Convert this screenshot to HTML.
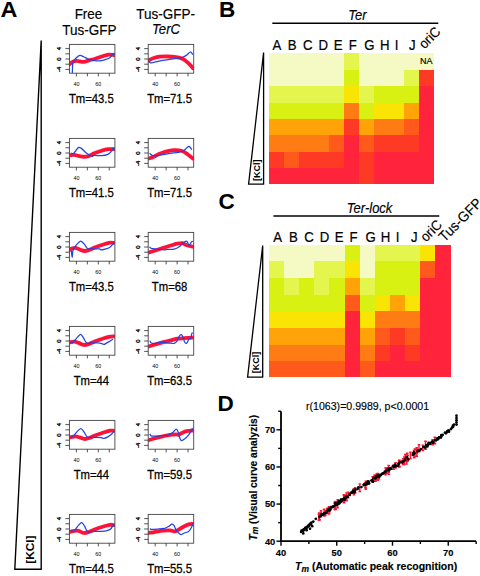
<!DOCTYPE html>
<html><head><meta charset="utf-8"><style>
html,body{margin:0;padding:0;background:#fff;width:480px;height:576px;overflow:hidden}
svg{display:block}
</style></head><body>
<svg width="480" height="576" viewBox="0 0 480 576" font-family="Liberation Sans, sans-serif">
<rect width="480" height="576" fill="#fff"/>
<text transform="translate(0.6,17.1) scale(1.05,1)" font-size="22.3" font-weight="bold" font-family="Liberation Sans, sans-serif">A</text>
<text x="219" y="17.2" font-size="22.5" font-weight="bold" font-family="Liberation Sans, sans-serif">B</text>
<text x="218.5" y="208.9" font-size="22.5" font-weight="bold" font-family="Liberation Sans, sans-serif">C</text>
<text x="217.5" y="411.4" font-size="22.5" font-weight="bold" font-family="Liberation Sans, sans-serif">D</text>
<text transform="translate(88.5,18.8) scale(1,1.07)" font-size="13.5" text-anchor="middle" stroke="#000" stroke-width="0.15" font-family="Liberation Sans, sans-serif">Free</text>
<text transform="translate(89.4,35.1) scale(1,1.07)" font-size="13.5" text-anchor="middle" stroke="#000" stroke-width="0.15" font-family="Liberation Sans, sans-serif">Tus-GFP</text>
<text transform="translate(165.7,19.1) scale(1,1.07)" font-size="13.5" text-anchor="middle" stroke="#000" stroke-width="0.15" font-family="Liberation Sans, sans-serif">Tus-GFP-</text>
<text transform="translate(166,34.3) scale(1,1.07)" font-size="13.2" font-style="italic" text-anchor="middle" stroke="#000" stroke-width="0.15" font-family="Liberation Sans, sans-serif">TerC</text>
<path d="M41.2,40.5 L41.2,569.2 L14.8,569.2 Z" fill="none" stroke="#000" stroke-width="1.4" stroke-linejoin="miter"/>
<text transform="translate(34.3,563.8) rotate(-90)" font-size="11.8" font-weight="bold" font-family="Liberation Sans, sans-serif">[KCl]</text>
<clipPath id="clip00"><rect x="69.4" y="44.4" width="45.5" height="28.8"/></clipPath>
<g clip-path="url(#clip00)">
<path d="M69.72,63.98 C70.15,63.65 71.19,62.49 72.31,61.97 C73.43,61.45 74.55,60.87 76.45,60.87 C78.36,60.87 81.65,62.05 83.73,61.97 C85.82,61.88 87.06,60.88 88.97,60.36 C90.87,59.83 92.91,59.49 95.15,58.80 C97.40,58.11 100.18,56.90 102.43,56.21 C104.69,55.51 106.76,54.80 108.67,54.62 C110.57,54.45 112.99,55.06 113.85,55.14" fill="none" stroke="#FF1238" stroke-width="3.8" stroke-linecap="round"/>
<path d="M72.31,73.20 C72.40,71.50 72.46,65.18 72.81,62.98 C73.16,60.77 73.62,60.98 74.41,59.95 C75.19,58.92 76.55,57.53 77.50,56.78 C78.45,56.04 79.05,55.46 80.09,55.46 C81.13,55.46 82.25,56.13 83.73,56.78 C85.21,57.44 87.41,58.78 88.97,59.38 C90.52,59.97 91.33,60.11 93.06,60.36 C94.79,60.60 97.43,60.96 99.34,60.87 C101.25,60.79 102.80,60.36 104.53,59.84 C106.26,59.32 108.24,58.80 109.71,57.76 C111.18,56.72 112.57,54.11 113.35,53.59 C114.13,53.06 114.23,54.45 114.40,54.62" fill="none" stroke="#2244E6" stroke-width="1.25"/>
</g>
<rect x="69.4" y="44.4" width="45.5" height="28.8" fill="none" stroke="#444" stroke-width="0.9"/>
<line x1="65.4" y1="48.60" x2="69.4" y2="48.60" stroke="#333" stroke-width="0.85"/>
<line x1="65.4" y1="53.80" x2="69.4" y2="53.80" stroke="#333" stroke-width="0.85"/>
<line x1="65.4" y1="59.00" x2="69.4" y2="59.00" stroke="#333" stroke-width="0.85"/>
<line x1="65.4" y1="64.20" x2="69.4" y2="64.20" stroke="#333" stroke-width="0.85"/>
<line x1="65.4" y1="69.40" x2="69.4" y2="69.40" stroke="#333" stroke-width="0.85"/>
<line x1="76.40" y1="73.2" x2="76.40" y2="76.4" stroke="#333" stroke-width="0.85"/>
<line x1="87.35" y1="73.2" x2="87.35" y2="76.4" stroke="#333" stroke-width="0.85"/>
<line x1="98.30" y1="73.2" x2="98.30" y2="76.4" stroke="#333" stroke-width="0.85"/>
<line x1="109.25" y1="73.2" x2="109.25" y2="76.4" stroke="#333" stroke-width="0.85"/>
<text x="76.40" y="86.20" font-size="5.4" text-anchor="middle" font-family="Liberation Sans, sans-serif">40</text>
<text x="98.30" y="86.20" font-size="5.4" text-anchor="middle" font-family="Liberation Sans, sans-serif">60</text>
<text transform="translate(61.00,48.60) rotate(-90)" font-size="6" fill="#000" stroke="#000" stroke-width="0.3" text-anchor="middle" font-family="Liberation Sans, sans-serif">4</text>
<text transform="translate(61.00,59.00) rotate(-90)" font-size="6" fill="#000" stroke="#000" stroke-width="0.3" text-anchor="middle" font-family="Liberation Sans, sans-serif">0</text>
<text transform="translate(61.00,69.40) rotate(-90)" font-size="6" fill="#000" stroke="#000" stroke-width="0.3" text-anchor="middle" font-family="Liberation Sans, sans-serif">-4</text>
<text transform="translate(91.35,102.70) scale(1,1.07)" font-size="11.3" text-anchor="middle" stroke="#000" stroke-width="0.25" font-family="Liberation Sans, sans-serif">Tm=43.5</text>
<clipPath id="clip01"><rect x="148.2" y="44.4" width="45.5" height="28.8"/></clipPath>
<g clip-path="url(#clip01)">
<path d="M148.52,60.36 C149.30,60.01 151.38,58.89 153.20,58.28 C155.03,57.68 157.05,57.02 159.48,56.73 C161.92,56.43 165.03,56.41 167.81,56.50 C170.59,56.58 173.75,56.86 176.18,57.24 C178.62,57.63 180.50,57.93 182.42,58.80 C184.33,59.67 186.25,61.32 187.65,62.46 C189.04,63.59 189.92,64.64 190.79,65.60 C191.66,66.55 192.53,67.76 192.88,68.19" fill="none" stroke="#FF1238" stroke-width="3.8" stroke-linecap="round"/>
<path d="M148.52,60.87 C148.87,61.22 149.48,62.80 150.61,62.98 C151.74,63.15 153.30,62.38 155.30,61.94 C157.30,61.50 159.67,60.88 162.62,60.36 C165.58,59.83 169.92,59.23 173.04,58.80 C176.17,58.37 179.11,58.37 181.37,57.76 C183.63,57.15 185.12,56.10 186.60,55.14 C188.08,54.18 189.20,52.09 190.24,52.00 C191.29,51.92 192.44,54.19 192.88,54.62" fill="none" stroke="#2244E6" stroke-width="1.25"/>
</g>
<rect x="148.2" y="44.4" width="45.5" height="28.8" fill="none" stroke="#444" stroke-width="0.9"/>
<line x1="144.2" y1="48.60" x2="148.2" y2="48.60" stroke="#333" stroke-width="0.85"/>
<line x1="144.2" y1="53.80" x2="148.2" y2="53.80" stroke="#333" stroke-width="0.85"/>
<line x1="144.2" y1="59.00" x2="148.2" y2="59.00" stroke="#333" stroke-width="0.85"/>
<line x1="144.2" y1="64.20" x2="148.2" y2="64.20" stroke="#333" stroke-width="0.85"/>
<line x1="144.2" y1="69.40" x2="148.2" y2="69.40" stroke="#333" stroke-width="0.85"/>
<line x1="155.20" y1="73.2" x2="155.20" y2="76.4" stroke="#333" stroke-width="0.85"/>
<line x1="166.15" y1="73.2" x2="166.15" y2="76.4" stroke="#333" stroke-width="0.85"/>
<line x1="177.10" y1="73.2" x2="177.10" y2="76.4" stroke="#333" stroke-width="0.85"/>
<line x1="188.05" y1="73.2" x2="188.05" y2="76.4" stroke="#333" stroke-width="0.85"/>
<text x="155.20" y="86.20" font-size="5.4" text-anchor="middle" font-family="Liberation Sans, sans-serif">40</text>
<text x="177.10" y="86.20" font-size="5.4" text-anchor="middle" font-family="Liberation Sans, sans-serif">60</text>
<text transform="translate(139.80,48.60) rotate(-90)" font-size="6" fill="#000" stroke="#000" stroke-width="0.3" text-anchor="middle" font-family="Liberation Sans, sans-serif">4</text>
<text transform="translate(139.80,59.00) rotate(-90)" font-size="6" fill="#000" stroke="#000" stroke-width="0.3" text-anchor="middle" font-family="Liberation Sans, sans-serif">0</text>
<text transform="translate(139.80,69.40) rotate(-90)" font-size="6" fill="#000" stroke="#000" stroke-width="0.3" text-anchor="middle" font-family="Liberation Sans, sans-serif">-4</text>
<text transform="translate(169.55,102.70) scale(1,1.07)" font-size="11.3" text-anchor="middle" stroke="#000" stroke-width="0.25" font-family="Liberation Sans, sans-serif">Tm=71.5</text>
<clipPath id="clip10"><rect x="69.4" y="138.4" width="45.5" height="28.8"/></clipPath>
<g clip-path="url(#clip10)">
<path d="M69.72,155.39 C70.50,155.31 72.93,154.78 74.41,154.87 C75.88,154.96 77.02,155.62 78.59,155.94 C80.16,156.26 82.09,156.77 83.82,156.77 C85.56,156.77 87.27,156.52 89.01,155.94 C90.75,155.36 92.16,154.19 94.24,153.32 C96.33,152.45 99.26,151.42 101.52,150.73 C103.78,150.03 105.71,149.41 107.80,149.14 C109.90,148.88 113.03,149.14 114.08,149.14" fill="none" stroke="#FF1238" stroke-width="3.8" stroke-linecap="round"/>
<path d="M71.27,152.80 C71.53,152.97 72.16,154.10 72.86,153.84 C73.56,153.58 74.50,152.32 75.45,151.24 C76.41,150.17 77.55,147.82 78.59,147.39 C79.63,146.95 80.56,147.81 81.69,148.62 C82.81,149.44 84.10,151.24 85.33,152.28 C86.55,153.32 87.87,154.18 89.01,154.87 C90.15,155.57 91.28,156.37 92.15,156.46 C93.02,156.54 92.68,155.52 94.24,155.39 C95.81,155.27 99.26,155.88 101.52,155.71 C103.78,155.54 106.23,155.01 107.80,154.36 C109.37,153.70 110.07,152.80 110.94,151.76 C111.81,150.72 112.43,148.54 113.03,148.11 C113.64,147.67 114.32,148.97 114.58,149.14" fill="none" stroke="#2244E6" stroke-width="1.25"/>
</g>
<rect x="69.4" y="138.4" width="45.5" height="28.8" fill="none" stroke="#444" stroke-width="0.9"/>
<line x1="65.4" y1="142.60" x2="69.4" y2="142.60" stroke="#333" stroke-width="0.85"/>
<line x1="65.4" y1="147.80" x2="69.4" y2="147.80" stroke="#333" stroke-width="0.85"/>
<line x1="65.4" y1="153.00" x2="69.4" y2="153.00" stroke="#333" stroke-width="0.85"/>
<line x1="65.4" y1="158.20" x2="69.4" y2="158.20" stroke="#333" stroke-width="0.85"/>
<line x1="65.4" y1="163.40" x2="69.4" y2="163.40" stroke="#333" stroke-width="0.85"/>
<line x1="76.40" y1="167.20000000000002" x2="76.40" y2="170.4" stroke="#333" stroke-width="0.85"/>
<line x1="87.35" y1="167.20000000000002" x2="87.35" y2="170.4" stroke="#333" stroke-width="0.85"/>
<line x1="98.30" y1="167.20000000000002" x2="98.30" y2="170.4" stroke="#333" stroke-width="0.85"/>
<line x1="109.25" y1="167.20000000000002" x2="109.25" y2="170.4" stroke="#333" stroke-width="0.85"/>
<text x="76.40" y="180.20" font-size="5.4" text-anchor="middle" font-family="Liberation Sans, sans-serif">40</text>
<text x="98.30" y="180.20" font-size="5.4" text-anchor="middle" font-family="Liberation Sans, sans-serif">60</text>
<text transform="translate(61.00,142.60) rotate(-90)" font-size="6" fill="#000" stroke="#000" stroke-width="0.3" text-anchor="middle" font-family="Liberation Sans, sans-serif">4</text>
<text transform="translate(61.00,153.00) rotate(-90)" font-size="6" fill="#000" stroke="#000" stroke-width="0.3" text-anchor="middle" font-family="Liberation Sans, sans-serif">0</text>
<text transform="translate(61.00,163.40) rotate(-90)" font-size="6" fill="#000" stroke="#000" stroke-width="0.3" text-anchor="middle" font-family="Liberation Sans, sans-serif">-4</text>
<text transform="translate(91.35,196.70) scale(1,1.07)" font-size="11.3" text-anchor="middle" stroke="#000" stroke-width="0.25" font-family="Liberation Sans, sans-serif">Tm=41.5</text>
<clipPath id="clip11"><rect x="148.2" y="138.4" width="45.5" height="28.8"/></clipPath>
<g clip-path="url(#clip11)">
<path d="M148.52,158.53 C149.30,158.27 151.38,157.76 153.20,156.98 C155.03,156.19 157.40,154.74 159.48,153.84 C161.57,152.93 163.28,152.17 165.72,151.56 C168.15,150.96 171.47,150.35 174.09,150.21 C176.71,150.07 179.50,150.29 181.41,150.73 C183.33,151.16 184.17,151.93 185.56,152.80 C186.94,153.67 188.52,154.98 189.74,155.94 C190.96,156.89 192.36,158.10 192.88,158.53" fill="none" stroke="#FF1238" stroke-width="3.8" stroke-linecap="round"/>
<path d="M149.56,153.32 C150.00,153.66 151.03,154.96 152.16,155.39 C153.29,155.83 154.60,156.06 156.34,155.94 C158.09,155.82 160.36,155.11 162.62,154.67 C164.88,154.24 167.29,153.72 169.90,153.32 C172.51,152.92 176.02,152.71 178.28,152.28 C180.54,151.85 182.07,151.42 183.46,150.73 C184.85,150.03 185.65,148.84 186.60,148.11 C187.56,147.37 188.32,146.06 189.20,146.32 C190.07,146.58 191.39,149.10 191.83,149.66" fill="none" stroke="#2244E6" stroke-width="1.25"/>
</g>
<rect x="148.2" y="138.4" width="45.5" height="28.8" fill="none" stroke="#444" stroke-width="0.9"/>
<line x1="144.2" y1="142.60" x2="148.2" y2="142.60" stroke="#333" stroke-width="0.85"/>
<line x1="144.2" y1="147.80" x2="148.2" y2="147.80" stroke="#333" stroke-width="0.85"/>
<line x1="144.2" y1="153.00" x2="148.2" y2="153.00" stroke="#333" stroke-width="0.85"/>
<line x1="144.2" y1="158.20" x2="148.2" y2="158.20" stroke="#333" stroke-width="0.85"/>
<line x1="144.2" y1="163.40" x2="148.2" y2="163.40" stroke="#333" stroke-width="0.85"/>
<line x1="155.20" y1="167.20000000000002" x2="155.20" y2="170.4" stroke="#333" stroke-width="0.85"/>
<line x1="166.15" y1="167.20000000000002" x2="166.15" y2="170.4" stroke="#333" stroke-width="0.85"/>
<line x1="177.10" y1="167.20000000000002" x2="177.10" y2="170.4" stroke="#333" stroke-width="0.85"/>
<line x1="188.05" y1="167.20000000000002" x2="188.05" y2="170.4" stroke="#333" stroke-width="0.85"/>
<text x="155.20" y="180.20" font-size="5.4" text-anchor="middle" font-family="Liberation Sans, sans-serif">40</text>
<text x="177.10" y="180.20" font-size="5.4" text-anchor="middle" font-family="Liberation Sans, sans-serif">60</text>
<text transform="translate(139.80,142.60) rotate(-90)" font-size="6" fill="#000" stroke="#000" stroke-width="0.3" text-anchor="middle" font-family="Liberation Sans, sans-serif">4</text>
<text transform="translate(139.80,153.00) rotate(-90)" font-size="6" fill="#000" stroke="#000" stroke-width="0.3" text-anchor="middle" font-family="Liberation Sans, sans-serif">0</text>
<text transform="translate(139.80,163.40) rotate(-90)" font-size="6" fill="#000" stroke="#000" stroke-width="0.3" text-anchor="middle" font-family="Liberation Sans, sans-serif">-4</text>
<text transform="translate(169.55,196.70) scale(1,1.07)" font-size="11.3" text-anchor="middle" stroke="#000" stroke-width="0.25" font-family="Liberation Sans, sans-serif">Tm=71.5</text>
<clipPath id="clip20"><rect x="69.4" y="232.4" width="45.5" height="28.8"/></clipPath>
<g clip-path="url(#clip20)">
<path d="M69.72,249.94 C70.15,249.68 71.18,248.67 72.31,248.36 C73.44,248.04 75.10,247.77 76.50,248.04 C77.89,248.30 79.30,249.45 80.68,249.94 C82.07,250.43 83.44,250.98 84.82,250.98 C86.21,250.98 87.27,250.55 89.01,249.94 C90.75,249.33 93.02,248.19 95.29,247.32 C97.56,246.45 100.36,245.48 102.62,244.73 C104.87,243.98 106.94,243.14 108.85,242.83 C110.76,242.51 113.21,242.83 114.08,242.83" fill="none" stroke="#FF1238" stroke-width="3.8" stroke-linecap="round"/>
<path d="M71.27,250.46 C71.41,251.59 71.86,257.14 72.13,257.23 C72.40,257.31 72.48,252.63 72.86,250.98 C73.24,249.32 73.62,248.54 74.41,247.32 C75.19,246.10 76.50,244.70 77.54,243.66 C78.59,242.62 79.64,241.07 80.68,241.07 C81.73,241.07 82.78,242.53 83.82,243.66 C84.86,244.79 86.05,246.97 86.92,247.84 C87.78,248.71 87.62,248.70 89.01,248.87 C90.41,249.05 93.55,248.87 95.29,248.87 C97.03,248.87 98.44,248.70 99.48,248.87 C100.51,249.05 100.48,249.94 101.52,249.94 C102.56,249.94 104.31,249.31 105.71,248.87 C107.10,248.44 108.50,248.36 109.90,247.32 C111.29,246.28 113.38,243.41 114.08,242.62" fill="none" stroke="#2244E6" stroke-width="1.25"/>
</g>
<rect x="69.4" y="232.4" width="45.5" height="28.8" fill="none" stroke="#444" stroke-width="0.9"/>
<line x1="65.4" y1="236.60" x2="69.4" y2="236.60" stroke="#333" stroke-width="0.85"/>
<line x1="65.4" y1="241.80" x2="69.4" y2="241.80" stroke="#333" stroke-width="0.85"/>
<line x1="65.4" y1="247.00" x2="69.4" y2="247.00" stroke="#333" stroke-width="0.85"/>
<line x1="65.4" y1="252.20" x2="69.4" y2="252.20" stroke="#333" stroke-width="0.85"/>
<line x1="65.4" y1="257.40" x2="69.4" y2="257.40" stroke="#333" stroke-width="0.85"/>
<line x1="76.40" y1="261.2" x2="76.40" y2="264.4" stroke="#333" stroke-width="0.85"/>
<line x1="87.35" y1="261.2" x2="87.35" y2="264.4" stroke="#333" stroke-width="0.85"/>
<line x1="98.30" y1="261.2" x2="98.30" y2="264.4" stroke="#333" stroke-width="0.85"/>
<line x1="109.25" y1="261.2" x2="109.25" y2="264.4" stroke="#333" stroke-width="0.85"/>
<text x="76.40" y="274.20" font-size="5.4" text-anchor="middle" font-family="Liberation Sans, sans-serif">40</text>
<text x="98.30" y="274.20" font-size="5.4" text-anchor="middle" font-family="Liberation Sans, sans-serif">60</text>
<text transform="translate(61.00,236.60) rotate(-90)" font-size="6" fill="#000" stroke="#000" stroke-width="0.3" text-anchor="middle" font-family="Liberation Sans, sans-serif">4</text>
<text transform="translate(61.00,247.00) rotate(-90)" font-size="6" fill="#000" stroke="#000" stroke-width="0.3" text-anchor="middle" font-family="Liberation Sans, sans-serif">0</text>
<text transform="translate(61.00,257.40) rotate(-90)" font-size="6" fill="#000" stroke="#000" stroke-width="0.3" text-anchor="middle" font-family="Liberation Sans, sans-serif">-4</text>
<text transform="translate(91.35,290.70) scale(1,1.07)" font-size="11.3" text-anchor="middle" stroke="#000" stroke-width="0.25" font-family="Liberation Sans, sans-serif">Tm=43.5</text>
<clipPath id="clip21"><rect x="148.2" y="232.4" width="45.5" height="28.8"/></clipPath>
<g clip-path="url(#clip21)">
<path d="M148.52,252.53 C149.65,252.19 152.95,251.21 155.30,250.46 C157.65,249.71 160.19,248.82 162.62,248.04 C165.06,247.26 167.47,246.49 169.90,245.76 C172.34,245.03 175.14,244.10 177.23,243.66 C179.31,243.22 180.85,242.88 182.42,243.14 C183.98,243.41 184.86,244.67 186.60,245.24 C188.35,245.82 191.83,246.37 192.88,246.60" fill="none" stroke="#FF1238" stroke-width="3.8" stroke-linecap="round"/>
<path d="M149.56,246.80 C149.82,247.06 149.81,247.97 151.11,248.36 C152.42,248.74 155.31,248.84 157.39,249.10 C159.48,249.37 161.89,249.89 163.62,249.94 C165.36,249.99 166.07,249.53 167.81,249.39 C169.55,249.25 172.18,249.54 174.09,249.10 C176.00,248.67 177.89,247.71 179.28,246.80 C180.66,245.89 181.37,244.56 182.42,243.66 C183.46,242.76 184.77,241.73 185.56,241.39 C186.34,241.04 186.54,240.94 187.15,241.59 C187.75,242.23 188.51,245.16 189.20,245.24 C189.89,245.33 190.67,242.75 191.29,242.11 C191.90,241.46 192.62,241.51 192.88,241.39" fill="none" stroke="#2244E6" stroke-width="1.25"/>
</g>
<rect x="148.2" y="232.4" width="45.5" height="28.8" fill="none" stroke="#444" stroke-width="0.9"/>
<line x1="144.2" y1="236.60" x2="148.2" y2="236.60" stroke="#333" stroke-width="0.85"/>
<line x1="144.2" y1="241.80" x2="148.2" y2="241.80" stroke="#333" stroke-width="0.85"/>
<line x1="144.2" y1="247.00" x2="148.2" y2="247.00" stroke="#333" stroke-width="0.85"/>
<line x1="144.2" y1="252.20" x2="148.2" y2="252.20" stroke="#333" stroke-width="0.85"/>
<line x1="144.2" y1="257.40" x2="148.2" y2="257.40" stroke="#333" stroke-width="0.85"/>
<line x1="155.20" y1="261.2" x2="155.20" y2="264.4" stroke="#333" stroke-width="0.85"/>
<line x1="166.15" y1="261.2" x2="166.15" y2="264.4" stroke="#333" stroke-width="0.85"/>
<line x1="177.10" y1="261.2" x2="177.10" y2="264.4" stroke="#333" stroke-width="0.85"/>
<line x1="188.05" y1="261.2" x2="188.05" y2="264.4" stroke="#333" stroke-width="0.85"/>
<text x="155.20" y="274.20" font-size="5.4" text-anchor="middle" font-family="Liberation Sans, sans-serif">40</text>
<text x="177.10" y="274.20" font-size="5.4" text-anchor="middle" font-family="Liberation Sans, sans-serif">60</text>
<text transform="translate(139.80,236.60) rotate(-90)" font-size="6" fill="#000" stroke="#000" stroke-width="0.3" text-anchor="middle" font-family="Liberation Sans, sans-serif">4</text>
<text transform="translate(139.80,247.00) rotate(-90)" font-size="6" fill="#000" stroke="#000" stroke-width="0.3" text-anchor="middle" font-family="Liberation Sans, sans-serif">0</text>
<text transform="translate(139.80,257.40) rotate(-90)" font-size="6" fill="#000" stroke="#000" stroke-width="0.3" text-anchor="middle" font-family="Liberation Sans, sans-serif">-4</text>
<text transform="translate(169.55,290.70) scale(1,1.07)" font-size="11.3" text-anchor="middle" stroke="#000" stroke-width="0.25" font-family="Liberation Sans, sans-serif">Tm=68</text>
<clipPath id="clip30"><rect x="69.4" y="326.4" width="45.5" height="28.8"/></clipPath>
<g clip-path="url(#clip30)">
<path d="M69.72,342.36 C70.50,342.24 72.93,341.55 74.41,341.64 C75.88,341.72 77.02,342.32 78.59,342.87 C80.16,343.43 82.09,344.80 83.82,344.98 C85.56,345.15 87.10,344.55 89.01,343.94 C90.92,343.33 93.02,342.19 95.29,341.32 C97.56,340.45 100.36,339.48 102.62,338.73 C104.87,337.98 106.94,337.21 108.85,336.83 C110.76,336.44 113.21,336.49 114.08,336.42" fill="none" stroke="#FF1238" stroke-width="3.8" stroke-linecap="round"/>
<path d="M70.77,341.84 C71.02,342.01 71.71,343.05 72.31,342.87 C72.92,342.70 73.53,341.76 74.41,340.80 C75.28,339.84 76.50,338.22 77.54,337.14 C78.59,336.06 79.73,334.23 80.68,334.32 C81.64,334.41 82.32,336.24 83.28,337.66 C84.23,339.09 85.46,341.92 86.42,342.87 C87.37,343.83 88.06,343.39 89.01,343.39 C89.97,343.39 90.58,342.96 92.15,342.87 C93.72,342.79 96.68,342.70 98.43,342.87 C100.17,343.05 101.66,343.68 102.62,343.94 C103.57,344.20 103.47,344.64 104.16,344.46 C104.85,344.28 105.80,343.40 106.76,342.87 C107.71,342.35 108.85,341.92 109.90,341.32 C110.94,340.71 112.51,339.59 113.03,339.24" fill="none" stroke="#2244E6" stroke-width="1.25"/>
</g>
<rect x="69.4" y="326.4" width="45.5" height="28.8" fill="none" stroke="#444" stroke-width="0.9"/>
<line x1="65.4" y1="330.60" x2="69.4" y2="330.60" stroke="#333" stroke-width="0.85"/>
<line x1="65.4" y1="335.80" x2="69.4" y2="335.80" stroke="#333" stroke-width="0.85"/>
<line x1="65.4" y1="341.00" x2="69.4" y2="341.00" stroke="#333" stroke-width="0.85"/>
<line x1="65.4" y1="346.20" x2="69.4" y2="346.20" stroke="#333" stroke-width="0.85"/>
<line x1="65.4" y1="351.40" x2="69.4" y2="351.40" stroke="#333" stroke-width="0.85"/>
<line x1="76.40" y1="355.2" x2="76.40" y2="358.4" stroke="#333" stroke-width="0.85"/>
<line x1="87.35" y1="355.2" x2="87.35" y2="358.4" stroke="#333" stroke-width="0.85"/>
<line x1="98.30" y1="355.2" x2="98.30" y2="358.4" stroke="#333" stroke-width="0.85"/>
<line x1="109.25" y1="355.2" x2="109.25" y2="358.4" stroke="#333" stroke-width="0.85"/>
<text x="76.40" y="368.20" font-size="5.4" text-anchor="middle" font-family="Liberation Sans, sans-serif">40</text>
<text x="98.30" y="368.20" font-size="5.4" text-anchor="middle" font-family="Liberation Sans, sans-serif">60</text>
<text transform="translate(61.00,330.60) rotate(-90)" font-size="6" fill="#000" stroke="#000" stroke-width="0.3" text-anchor="middle" font-family="Liberation Sans, sans-serif">4</text>
<text transform="translate(61.00,341.00) rotate(-90)" font-size="6" fill="#000" stroke="#000" stroke-width="0.3" text-anchor="middle" font-family="Liberation Sans, sans-serif">0</text>
<text transform="translate(61.00,351.40) rotate(-90)" font-size="6" fill="#000" stroke="#000" stroke-width="0.3" text-anchor="middle" font-family="Liberation Sans, sans-serif">-4</text>
<text transform="translate(91.35,384.70) scale(1,1.07)" font-size="11.3" text-anchor="middle" stroke="#000" stroke-width="0.25" font-family="Liberation Sans, sans-serif">Tm=44</text>
<clipPath id="clip31"><rect x="148.2" y="326.4" width="45.5" height="28.8"/></clipPath>
<g clip-path="url(#clip31)">
<path d="M148.52,346.53 C149.65,346.19 152.95,345.15 155.30,344.46 C157.65,343.76 160.19,343.00 162.62,342.36 C165.06,341.71 167.47,341.20 169.90,340.60 C172.34,339.99 174.79,339.13 177.23,338.73 C179.66,338.32 181.90,338.36 184.51,338.18 C187.12,338.00 191.49,337.75 192.88,337.66" fill="none" stroke="#FF1238" stroke-width="3.8" stroke-linecap="round"/>
<path d="M149.88,340.80 C150.09,341.15 150.56,342.44 151.11,342.87 C151.67,343.31 152.16,343.35 153.20,343.39 C154.25,343.43 156.00,343.33 157.39,343.10 C158.79,342.88 160.19,342.08 161.58,342.04 C162.96,342.00 164.16,342.70 165.72,342.87 C167.28,343.05 169.55,343.02 170.95,343.10 C172.35,343.19 173.04,343.78 174.09,343.39 C175.14,343.01 176.36,342.01 177.23,340.80 C178.09,339.59 178.59,337.15 179.28,336.11 C179.97,335.06 180.76,334.38 181.37,334.55 C181.98,334.72 182.44,335.93 182.96,337.14 C183.49,338.36 183.99,340.80 184.51,341.84 C185.03,342.88 185.58,343.39 186.10,343.39 C186.62,343.39 187.22,342.53 187.65,341.84 C188.08,341.15 188.17,339.85 188.69,339.24 C189.22,338.64 190.26,339.14 190.79,338.18 C191.31,337.22 191.49,334.44 191.83,333.48 C192.18,332.53 192.71,332.62 192.88,332.45" fill="none" stroke="#2244E6" stroke-width="1.25"/>
</g>
<rect x="148.2" y="326.4" width="45.5" height="28.8" fill="none" stroke="#444" stroke-width="0.9"/>
<line x1="144.2" y1="330.60" x2="148.2" y2="330.60" stroke="#333" stroke-width="0.85"/>
<line x1="144.2" y1="335.80" x2="148.2" y2="335.80" stroke="#333" stroke-width="0.85"/>
<line x1="144.2" y1="341.00" x2="148.2" y2="341.00" stroke="#333" stroke-width="0.85"/>
<line x1="144.2" y1="346.20" x2="148.2" y2="346.20" stroke="#333" stroke-width="0.85"/>
<line x1="144.2" y1="351.40" x2="148.2" y2="351.40" stroke="#333" stroke-width="0.85"/>
<line x1="155.20" y1="355.2" x2="155.20" y2="358.4" stroke="#333" stroke-width="0.85"/>
<line x1="166.15" y1="355.2" x2="166.15" y2="358.4" stroke="#333" stroke-width="0.85"/>
<line x1="177.10" y1="355.2" x2="177.10" y2="358.4" stroke="#333" stroke-width="0.85"/>
<line x1="188.05" y1="355.2" x2="188.05" y2="358.4" stroke="#333" stroke-width="0.85"/>
<text x="155.20" y="368.20" font-size="5.4" text-anchor="middle" font-family="Liberation Sans, sans-serif">40</text>
<text x="177.10" y="368.20" font-size="5.4" text-anchor="middle" font-family="Liberation Sans, sans-serif">60</text>
<text transform="translate(139.80,330.60) rotate(-90)" font-size="6" fill="#000" stroke="#000" stroke-width="0.3" text-anchor="middle" font-family="Liberation Sans, sans-serif">4</text>
<text transform="translate(139.80,341.00) rotate(-90)" font-size="6" fill="#000" stroke="#000" stroke-width="0.3" text-anchor="middle" font-family="Liberation Sans, sans-serif">0</text>
<text transform="translate(139.80,351.40) rotate(-90)" font-size="6" fill="#000" stroke="#000" stroke-width="0.3" text-anchor="middle" font-family="Liberation Sans, sans-serif">-4</text>
<text transform="translate(169.55,384.70) scale(1,1.07)" font-size="11.3" text-anchor="middle" stroke="#000" stroke-width="0.25" font-family="Liberation Sans, sans-serif">Tm=63.5</text>
<clipPath id="clip40"><rect x="69.4" y="420.4" width="45.5" height="28.8"/></clipPath>
<g clip-path="url(#clip40)">
<path d="M69.72,437.39 C70.67,437.22 73.80,436.36 75.45,436.36 C77.10,436.36 78.08,436.96 79.64,437.39 C81.20,437.83 83.09,438.92 84.82,438.98 C86.56,439.03 88.14,438.37 90.06,437.71 C91.98,437.05 94.08,435.87 96.34,435.00 C98.60,434.13 101.36,433.23 103.62,432.50 C105.88,431.77 108.15,430.90 109.90,430.62 C111.64,430.35 113.38,430.79 114.08,430.83" fill="none" stroke="#FF1238" stroke-width="3.8" stroke-linecap="round"/>
<path d="M70.77,436.87 C71.02,436.96 71.71,437.74 72.31,437.39 C72.92,437.05 73.45,435.93 74.41,434.80 C75.36,433.67 76.92,431.63 78.05,430.62 C79.17,429.62 80.22,428.58 81.18,428.75 C82.15,428.92 82.87,430.34 83.82,431.66 C84.78,432.98 85.88,435.72 86.92,436.67 C87.96,437.63 88.31,437.27 90.06,437.39 C91.80,437.51 95.47,437.34 97.38,437.39 C99.29,437.44 100.48,437.53 101.52,437.71 C102.56,437.89 102.57,438.60 103.62,438.46 C104.66,438.32 106.58,437.48 107.80,436.87 C109.02,436.26 109.99,435.67 110.94,434.80 C111.90,433.93 113.10,432.18 113.53,431.66" fill="none" stroke="#2244E6" stroke-width="1.25"/>
</g>
<rect x="69.4" y="420.4" width="45.5" height="28.8" fill="none" stroke="#444" stroke-width="0.9"/>
<line x1="65.4" y1="424.60" x2="69.4" y2="424.60" stroke="#333" stroke-width="0.85"/>
<line x1="65.4" y1="429.80" x2="69.4" y2="429.80" stroke="#333" stroke-width="0.85"/>
<line x1="65.4" y1="435.00" x2="69.4" y2="435.00" stroke="#333" stroke-width="0.85"/>
<line x1="65.4" y1="440.20" x2="69.4" y2="440.20" stroke="#333" stroke-width="0.85"/>
<line x1="65.4" y1="445.40" x2="69.4" y2="445.40" stroke="#333" stroke-width="0.85"/>
<line x1="76.40" y1="449.2" x2="76.40" y2="452.4" stroke="#333" stroke-width="0.85"/>
<line x1="87.35" y1="449.2" x2="87.35" y2="452.4" stroke="#333" stroke-width="0.85"/>
<line x1="98.30" y1="449.2" x2="98.30" y2="452.4" stroke="#333" stroke-width="0.85"/>
<line x1="109.25" y1="449.2" x2="109.25" y2="452.4" stroke="#333" stroke-width="0.85"/>
<text x="76.40" y="462.20" font-size="5.4" text-anchor="middle" font-family="Liberation Sans, sans-serif">40</text>
<text x="98.30" y="462.20" font-size="5.4" text-anchor="middle" font-family="Liberation Sans, sans-serif">60</text>
<text transform="translate(61.00,424.60) rotate(-90)" font-size="6" fill="#000" stroke="#000" stroke-width="0.3" text-anchor="middle" font-family="Liberation Sans, sans-serif">4</text>
<text transform="translate(61.00,435.00) rotate(-90)" font-size="6" fill="#000" stroke="#000" stroke-width="0.3" text-anchor="middle" font-family="Liberation Sans, sans-serif">0</text>
<text transform="translate(61.00,445.40) rotate(-90)" font-size="6" fill="#000" stroke="#000" stroke-width="0.3" text-anchor="middle" font-family="Liberation Sans, sans-serif">-4</text>
<text transform="translate(91.35,478.70) scale(1,1.07)" font-size="11.3" text-anchor="middle" stroke="#000" stroke-width="0.25" font-family="Liberation Sans, sans-serif">Tm=44</text>
<clipPath id="clip41"><rect x="148.2" y="420.4" width="45.5" height="28.8"/></clipPath>
<g clip-path="url(#clip41)">
<path d="M148.52,440.21 C149.65,439.87 152.95,438.78 155.30,438.14 C157.65,437.50 160.19,436.91 162.62,436.36 C165.06,435.80 167.64,435.15 169.90,434.80 C172.16,434.45 174.79,434.28 176.18,434.28 C177.58,434.28 177.41,434.97 178.28,434.80 C179.14,434.63 179.98,433.85 181.37,433.24 C182.76,432.64 184.68,431.58 186.60,431.14 C188.52,430.71 191.83,430.71 192.88,430.62" fill="none" stroke="#FF1238" stroke-width="3.8" stroke-linecap="round"/>
<path d="M149.88,433.76 C150.09,434.11 150.21,435.46 151.11,435.84 C152.01,436.22 153.38,436.07 155.30,436.04 C157.22,436.00 160.36,435.84 162.62,435.64 C164.88,435.43 167.12,435.38 168.86,434.80 C170.59,434.22 171.82,433.13 173.04,432.18 C174.26,431.22 175.31,429.07 176.18,429.07 C177.05,429.07 177.67,430.70 178.28,432.18 C178.88,433.66 179.31,436.55 179.82,437.94 C180.34,439.33 180.59,440.36 181.37,440.53 C182.15,440.70 183.29,439.93 184.51,438.98 C185.73,438.02 187.57,436.19 188.69,434.80 C189.82,433.41 190.68,431.67 191.29,430.62 C191.90,429.58 191.99,428.55 192.33,428.55 C192.68,428.55 193.21,430.28 193.38,430.62" fill="none" stroke="#2244E6" stroke-width="1.25"/>
</g>
<rect x="148.2" y="420.4" width="45.5" height="28.8" fill="none" stroke="#444" stroke-width="0.9"/>
<line x1="144.2" y1="424.60" x2="148.2" y2="424.60" stroke="#333" stroke-width="0.85"/>
<line x1="144.2" y1="429.80" x2="148.2" y2="429.80" stroke="#333" stroke-width="0.85"/>
<line x1="144.2" y1="435.00" x2="148.2" y2="435.00" stroke="#333" stroke-width="0.85"/>
<line x1="144.2" y1="440.20" x2="148.2" y2="440.20" stroke="#333" stroke-width="0.85"/>
<line x1="144.2" y1="445.40" x2="148.2" y2="445.40" stroke="#333" stroke-width="0.85"/>
<line x1="155.20" y1="449.2" x2="155.20" y2="452.4" stroke="#333" stroke-width="0.85"/>
<line x1="166.15" y1="449.2" x2="166.15" y2="452.4" stroke="#333" stroke-width="0.85"/>
<line x1="177.10" y1="449.2" x2="177.10" y2="452.4" stroke="#333" stroke-width="0.85"/>
<line x1="188.05" y1="449.2" x2="188.05" y2="452.4" stroke="#333" stroke-width="0.85"/>
<text x="155.20" y="462.20" font-size="5.4" text-anchor="middle" font-family="Liberation Sans, sans-serif">40</text>
<text x="177.10" y="462.20" font-size="5.4" text-anchor="middle" font-family="Liberation Sans, sans-serif">60</text>
<text transform="translate(139.80,424.60) rotate(-90)" font-size="6" fill="#000" stroke="#000" stroke-width="0.3" text-anchor="middle" font-family="Liberation Sans, sans-serif">4</text>
<text transform="translate(139.80,435.00) rotate(-90)" font-size="6" fill="#000" stroke="#000" stroke-width="0.3" text-anchor="middle" font-family="Liberation Sans, sans-serif">0</text>
<text transform="translate(139.80,445.40) rotate(-90)" font-size="6" fill="#000" stroke="#000" stroke-width="0.3" text-anchor="middle" font-family="Liberation Sans, sans-serif">-4</text>
<text transform="translate(169.55,478.70) scale(1,1.07)" font-size="11.3" text-anchor="middle" stroke="#000" stroke-width="0.25" font-family="Liberation Sans, sans-serif">Tm=59.5</text>
<clipPath id="clip50"><rect x="69.4" y="514.4" width="45.5" height="28.8"/></clipPath>
<g clip-path="url(#clip50)">
<path d="M69.72,531.94 C70.50,531.76 72.93,531.05 74.41,530.87 C75.88,530.70 77.02,530.52 78.59,530.87 C80.16,531.22 82.09,532.80 83.82,532.98 C85.56,533.15 87.10,532.55 89.01,531.94 C90.92,531.33 93.02,530.19 95.29,529.32 C97.56,528.45 100.18,527.48 102.62,526.73 C105.05,525.98 107.98,525.09 109.90,524.83 C111.81,524.56 113.38,525.09 114.08,525.14" fill="none" stroke="#FF1238" stroke-width="3.8" stroke-linecap="round"/>
<path d="M70.77,529.84 C71.02,530.10 71.62,531.39 72.31,531.39 C73.00,531.39 73.86,530.88 74.91,529.84 C75.95,528.80 77.46,526.36 78.59,525.14 C79.72,523.93 80.73,522.46 81.69,522.55 C82.64,522.64 83.45,524.27 84.32,525.66 C85.20,527.05 86.14,529.83 86.92,530.87 C87.70,531.92 87.79,531.85 89.01,531.94 C90.23,532.03 92.16,531.48 94.24,531.39 C96.33,531.30 99.26,531.56 101.52,531.39 C103.78,531.22 106.23,530.79 107.80,530.36 C109.37,529.92 110.07,529.67 110.94,528.80 C111.81,527.93 112.43,525.84 113.03,525.14 C113.64,524.45 114.32,524.71 114.58,524.62" fill="none" stroke="#2244E6" stroke-width="1.25"/>
</g>
<rect x="69.4" y="514.4" width="45.5" height="28.8" fill="none" stroke="#444" stroke-width="0.9"/>
<line x1="65.4" y1="518.60" x2="69.4" y2="518.60" stroke="#333" stroke-width="0.85"/>
<line x1="65.4" y1="523.80" x2="69.4" y2="523.80" stroke="#333" stroke-width="0.85"/>
<line x1="65.4" y1="529.00" x2="69.4" y2="529.00" stroke="#333" stroke-width="0.85"/>
<line x1="65.4" y1="534.20" x2="69.4" y2="534.20" stroke="#333" stroke-width="0.85"/>
<line x1="65.4" y1="539.40" x2="69.4" y2="539.40" stroke="#333" stroke-width="0.85"/>
<line x1="76.40" y1="543.1999999999999" x2="76.40" y2="546.4" stroke="#333" stroke-width="0.85"/>
<line x1="87.35" y1="543.1999999999999" x2="87.35" y2="546.4" stroke="#333" stroke-width="0.85"/>
<line x1="98.30" y1="543.1999999999999" x2="98.30" y2="546.4" stroke="#333" stroke-width="0.85"/>
<line x1="109.25" y1="543.1999999999999" x2="109.25" y2="546.4" stroke="#333" stroke-width="0.85"/>
<text x="76.40" y="556.20" font-size="5.4" text-anchor="middle" font-family="Liberation Sans, sans-serif">40</text>
<text x="98.30" y="556.20" font-size="5.4" text-anchor="middle" font-family="Liberation Sans, sans-serif">60</text>
<text transform="translate(61.00,518.60) rotate(-90)" font-size="6" fill="#000" stroke="#000" stroke-width="0.3" text-anchor="middle" font-family="Liberation Sans, sans-serif">4</text>
<text transform="translate(61.00,529.00) rotate(-90)" font-size="6" fill="#000" stroke="#000" stroke-width="0.3" text-anchor="middle" font-family="Liberation Sans, sans-serif">0</text>
<text transform="translate(61.00,539.40) rotate(-90)" font-size="6" fill="#000" stroke="#000" stroke-width="0.3" text-anchor="middle" font-family="Liberation Sans, sans-serif">-4</text>
<text transform="translate(91.35,572.70) scale(1,1.07)" font-size="11.3" text-anchor="middle" stroke="#000" stroke-width="0.25" font-family="Liberation Sans, sans-serif">Tm=44.5</text>
<clipPath id="clip51"><rect x="148.2" y="514.4" width="45.5" height="28.8"/></clipPath>
<g clip-path="url(#clip51)">
<path d="M148.52,532.98 C149.65,532.80 152.95,532.32 155.30,531.94 C157.65,531.56 160.19,530.94 162.62,530.67 C165.06,530.41 167.82,530.24 169.90,530.36 C171.99,530.48 173.74,531.48 175.14,531.39 C176.53,531.31 176.89,530.61 178.28,529.84 C179.66,529.06 181.73,527.63 183.46,526.73 C185.20,525.82 187.13,524.91 188.69,524.42 C190.26,523.93 192.18,523.89 192.88,523.79" fill="none" stroke="#FF1238" stroke-width="3.8" stroke-linecap="round"/>
<path d="M149.88,528.60 C150.09,528.72 149.86,529.25 151.11,529.32 C152.36,529.39 155.13,529.17 157.39,529.00 C159.65,528.83 162.76,528.75 164.67,528.28 C166.58,527.81 167.64,526.88 168.86,526.18 C170.08,525.48 171.12,524.19 172.00,524.11 C172.87,524.02 173.39,524.62 174.09,525.66 C174.79,526.70 175.32,529.05 176.18,530.36 C177.05,531.66 178.41,532.80 179.28,533.49 C180.14,534.19 180.50,534.62 181.37,534.53 C182.24,534.44 183.29,533.50 184.51,532.98 C185.73,532.45 187.57,532.26 188.69,531.39 C189.82,530.52 190.59,529.03 191.29,527.76 C191.99,526.50 192.62,524.45 192.88,523.79" fill="none" stroke="#2244E6" stroke-width="1.25"/>
</g>
<rect x="148.2" y="514.4" width="45.5" height="28.8" fill="none" stroke="#444" stroke-width="0.9"/>
<line x1="144.2" y1="518.60" x2="148.2" y2="518.60" stroke="#333" stroke-width="0.85"/>
<line x1="144.2" y1="523.80" x2="148.2" y2="523.80" stroke="#333" stroke-width="0.85"/>
<line x1="144.2" y1="529.00" x2="148.2" y2="529.00" stroke="#333" stroke-width="0.85"/>
<line x1="144.2" y1="534.20" x2="148.2" y2="534.20" stroke="#333" stroke-width="0.85"/>
<line x1="144.2" y1="539.40" x2="148.2" y2="539.40" stroke="#333" stroke-width="0.85"/>
<line x1="155.20" y1="543.1999999999999" x2="155.20" y2="546.4" stroke="#333" stroke-width="0.85"/>
<line x1="166.15" y1="543.1999999999999" x2="166.15" y2="546.4" stroke="#333" stroke-width="0.85"/>
<line x1="177.10" y1="543.1999999999999" x2="177.10" y2="546.4" stroke="#333" stroke-width="0.85"/>
<line x1="188.05" y1="543.1999999999999" x2="188.05" y2="546.4" stroke="#333" stroke-width="0.85"/>
<text x="155.20" y="556.20" font-size="5.4" text-anchor="middle" font-family="Liberation Sans, sans-serif">40</text>
<text x="177.10" y="556.20" font-size="5.4" text-anchor="middle" font-family="Liberation Sans, sans-serif">60</text>
<text transform="translate(139.80,518.60) rotate(-90)" font-size="6" fill="#000" stroke="#000" stroke-width="0.3" text-anchor="middle" font-family="Liberation Sans, sans-serif">4</text>
<text transform="translate(139.80,529.00) rotate(-90)" font-size="6" fill="#000" stroke="#000" stroke-width="0.3" text-anchor="middle" font-family="Liberation Sans, sans-serif">0</text>
<text transform="translate(139.80,539.40) rotate(-90)" font-size="6" fill="#000" stroke="#000" stroke-width="0.3" text-anchor="middle" font-family="Liberation Sans, sans-serif">-4</text>
<text transform="translate(169.55,572.70) scale(1,1.07)" font-size="11.3" text-anchor="middle" stroke="#000" stroke-width="0.25" font-family="Liberation Sans, sans-serif">Tm=55.5</text>
<rect x="269.0" y="53.0" width="15.0" height="16.5" fill="#F5F9C4" shape-rendering="crispEdges"/>
<rect x="284.0" y="53.0" width="15.0" height="16.5" fill="#F5F9C4" shape-rendering="crispEdges"/>
<rect x="299.0" y="53.0" width="15.0" height="16.5" fill="#F5F9C4" shape-rendering="crispEdges"/>
<rect x="314.0" y="53.0" width="15.0" height="16.5" fill="#F5F9C4" shape-rendering="crispEdges"/>
<rect x="329.0" y="53.0" width="15.0" height="16.5" fill="#F5F9C4" shape-rendering="crispEdges"/>
<rect x="344.0" y="53.0" width="15.0" height="16.5" fill="#E4F64E" shape-rendering="crispEdges"/>
<rect x="359.0" y="53.0" width="15.0" height="16.5" fill="#F5F9C4" shape-rendering="crispEdges"/>
<rect x="374.0" y="53.0" width="15.0" height="16.5" fill="#F5F9C4" shape-rendering="crispEdges"/>
<rect x="389.0" y="53.0" width="15.0" height="16.5" fill="#F5F9C4" shape-rendering="crispEdges"/>
<rect x="404.0" y="53.0" width="15.0" height="16.5" fill="#F5F9C4" shape-rendering="crispEdges"/>
<rect x="419.0" y="53.0" width="15.0" height="16.5" fill="#F5F9C4" shape-rendering="crispEdges"/>
<rect x="269.0" y="69.5" width="15.0" height="16.5" fill="#F5F9C4" shape-rendering="crispEdges"/>
<rect x="284.0" y="69.5" width="15.0" height="16.5" fill="#F5F9C4" shape-rendering="crispEdges"/>
<rect x="299.0" y="69.5" width="15.0" height="16.5" fill="#F5F9C4" shape-rendering="crispEdges"/>
<rect x="314.0" y="69.5" width="15.0" height="16.5" fill="#F5F9C4" shape-rendering="crispEdges"/>
<rect x="329.0" y="69.5" width="15.0" height="16.5" fill="#F5F9C4" shape-rendering="crispEdges"/>
<rect x="344.0" y="69.5" width="15.0" height="16.5" fill="#D8F012" shape-rendering="crispEdges"/>
<rect x="359.0" y="69.5" width="15.0" height="16.5" fill="#F5F9C4" shape-rendering="crispEdges"/>
<rect x="374.0" y="69.5" width="15.0" height="16.5" fill="#F5F9C4" shape-rendering="crispEdges"/>
<rect x="389.0" y="69.5" width="15.0" height="16.5" fill="#F5F9C4" shape-rendering="crispEdges"/>
<rect x="404.0" y="69.5" width="15.0" height="16.5" fill="#E4F64E" shape-rendering="crispEdges"/>
<rect x="419.0" y="69.5" width="15.0" height="16.5" fill="#FF3A24" shape-rendering="crispEdges"/>
<rect x="269.0" y="86.0" width="15.0" height="16.5" fill="#E4F64E" shape-rendering="crispEdges"/>
<rect x="284.0" y="86.0" width="15.0" height="16.5" fill="#E4F64E" shape-rendering="crispEdges"/>
<rect x="299.0" y="86.0" width="15.0" height="16.5" fill="#E4F64E" shape-rendering="crispEdges"/>
<rect x="314.0" y="86.0" width="15.0" height="16.5" fill="#E4F64E" shape-rendering="crispEdges"/>
<rect x="329.0" y="86.0" width="15.0" height="16.5" fill="#E4F64E" shape-rendering="crispEdges"/>
<rect x="344.0" y="86.0" width="15.0" height="16.5" fill="#F9E404" shape-rendering="crispEdges"/>
<rect x="359.0" y="86.0" width="15.0" height="16.5" fill="#E4F64E" shape-rendering="crispEdges"/>
<rect x="374.0" y="86.0" width="15.0" height="16.5" fill="#D8F012" shape-rendering="crispEdges"/>
<rect x="389.0" y="86.0" width="15.0" height="16.5" fill="#D8F012" shape-rendering="crispEdges"/>
<rect x="404.0" y="86.0" width="15.0" height="16.5" fill="#D8F012" shape-rendering="crispEdges"/>
<rect x="419.0" y="86.0" width="15.0" height="16.5" fill="#FF233C" shape-rendering="crispEdges"/>
<rect x="269.0" y="102.5" width="15.0" height="16.5" fill="#D8F012" shape-rendering="crispEdges"/>
<rect x="284.0" y="102.5" width="15.0" height="16.5" fill="#D8F012" shape-rendering="crispEdges"/>
<rect x="299.0" y="102.5" width="15.0" height="16.5" fill="#D8F012" shape-rendering="crispEdges"/>
<rect x="314.0" y="102.5" width="15.0" height="16.5" fill="#D8F012" shape-rendering="crispEdges"/>
<rect x="329.0" y="102.5" width="15.0" height="16.5" fill="#D8F012" shape-rendering="crispEdges"/>
<rect x="344.0" y="102.5" width="15.0" height="16.5" fill="#FF7C14" shape-rendering="crispEdges"/>
<rect x="359.0" y="102.5" width="15.0" height="16.5" fill="#D8F012" shape-rendering="crispEdges"/>
<rect x="374.0" y="102.5" width="15.0" height="16.5" fill="#F9E404" shape-rendering="crispEdges"/>
<rect x="389.0" y="102.5" width="15.0" height="16.5" fill="#F9E404" shape-rendering="crispEdges"/>
<rect x="404.0" y="102.5" width="15.0" height="16.5" fill="#FFA308" shape-rendering="crispEdges"/>
<rect x="419.0" y="102.5" width="15.0" height="16.5" fill="#FF233C" shape-rendering="crispEdges"/>
<rect x="269.0" y="119.0" width="15.0" height="16.0" fill="#FFA308" shape-rendering="crispEdges"/>
<rect x="284.0" y="119.0" width="15.0" height="16.0" fill="#FFA308" shape-rendering="crispEdges"/>
<rect x="299.0" y="119.0" width="15.0" height="16.0" fill="#FFA308" shape-rendering="crispEdges"/>
<rect x="314.0" y="119.0" width="15.0" height="16.0" fill="#FFA308" shape-rendering="crispEdges"/>
<rect x="329.0" y="119.0" width="15.0" height="16.0" fill="#FFA308" shape-rendering="crispEdges"/>
<rect x="344.0" y="119.0" width="15.0" height="16.0" fill="#FF3A24" shape-rendering="crispEdges"/>
<rect x="359.0" y="119.0" width="15.0" height="16.0" fill="#FFA308" shape-rendering="crispEdges"/>
<rect x="374.0" y="119.0" width="15.0" height="16.0" fill="#FF7C14" shape-rendering="crispEdges"/>
<rect x="389.0" y="119.0" width="15.0" height="16.0" fill="#FF7C14" shape-rendering="crispEdges"/>
<rect x="404.0" y="119.0" width="15.0" height="16.0" fill="#FF5A1C" shape-rendering="crispEdges"/>
<rect x="419.0" y="119.0" width="15.0" height="16.0" fill="#FF233C" shape-rendering="crispEdges"/>
<rect x="269.0" y="135.0" width="15.0" height="16.5" fill="#FF7C14" shape-rendering="crispEdges"/>
<rect x="284.0" y="135.0" width="15.0" height="16.5" fill="#FF7C14" shape-rendering="crispEdges"/>
<rect x="299.0" y="135.0" width="15.0" height="16.5" fill="#FF7C14" shape-rendering="crispEdges"/>
<rect x="314.0" y="135.0" width="15.0" height="16.5" fill="#FF7C14" shape-rendering="crispEdges"/>
<rect x="329.0" y="135.0" width="15.0" height="16.5" fill="#FF5A1C" shape-rendering="crispEdges"/>
<rect x="344.0" y="135.0" width="15.0" height="16.5" fill="#FF233C" shape-rendering="crispEdges"/>
<rect x="359.0" y="135.0" width="15.0" height="16.5" fill="#FF5A1C" shape-rendering="crispEdges"/>
<rect x="374.0" y="135.0" width="15.0" height="16.5" fill="#FF3A24" shape-rendering="crispEdges"/>
<rect x="389.0" y="135.0" width="15.0" height="16.5" fill="#FF3A24" shape-rendering="crispEdges"/>
<rect x="404.0" y="135.0" width="15.0" height="16.5" fill="#FF3A24" shape-rendering="crispEdges"/>
<rect x="419.0" y="135.0" width="15.0" height="16.5" fill="#FF233C" shape-rendering="crispEdges"/>
<rect x="269.0" y="151.5" width="15.0" height="16.5" fill="#FF3A24" shape-rendering="crispEdges"/>
<rect x="284.0" y="151.5" width="15.0" height="16.5" fill="#FF5A1C" shape-rendering="crispEdges"/>
<rect x="299.0" y="151.5" width="15.0" height="16.5" fill="#FF3A24" shape-rendering="crispEdges"/>
<rect x="314.0" y="151.5" width="15.0" height="16.5" fill="#FF3A24" shape-rendering="crispEdges"/>
<rect x="329.0" y="151.5" width="15.0" height="16.5" fill="#FF3A24" shape-rendering="crispEdges"/>
<rect x="344.0" y="151.5" width="15.0" height="16.5" fill="#FF233C" shape-rendering="crispEdges"/>
<rect x="359.0" y="151.5" width="15.0" height="16.5" fill="#FF3A24" shape-rendering="crispEdges"/>
<rect x="374.0" y="151.5" width="15.0" height="16.5" fill="#FF233C" shape-rendering="crispEdges"/>
<rect x="389.0" y="151.5" width="15.0" height="16.5" fill="#FF233C" shape-rendering="crispEdges"/>
<rect x="404.0" y="151.5" width="15.0" height="16.5" fill="#FF233C" shape-rendering="crispEdges"/>
<rect x="419.0" y="151.5" width="15.0" height="16.5" fill="#FF233C" shape-rendering="crispEdges"/>
<rect x="269.0" y="168.0" width="15.0" height="15.5" fill="#FF233C" shape-rendering="crispEdges"/>
<rect x="284.0" y="168.0" width="15.0" height="15.5" fill="#FF233C" shape-rendering="crispEdges"/>
<rect x="299.0" y="168.0" width="15.0" height="15.5" fill="#FF233C" shape-rendering="crispEdges"/>
<rect x="314.0" y="168.0" width="15.0" height="15.5" fill="#FF233C" shape-rendering="crispEdges"/>
<rect x="329.0" y="168.0" width="15.0" height="15.5" fill="#FF233C" shape-rendering="crispEdges"/>
<rect x="344.0" y="168.0" width="15.0" height="15.5" fill="#FF233C" shape-rendering="crispEdges"/>
<rect x="359.0" y="168.0" width="15.0" height="15.5" fill="#FF3A24" shape-rendering="crispEdges"/>
<rect x="374.0" y="168.0" width="15.0" height="15.5" fill="#FF233C" shape-rendering="crispEdges"/>
<rect x="389.0" y="168.0" width="15.0" height="15.5" fill="#FF233C" shape-rendering="crispEdges"/>
<rect x="404.0" y="168.0" width="15.0" height="15.5" fill="#FF233C" shape-rendering="crispEdges"/>
<rect x="419.0" y="168.0" width="15.0" height="15.5" fill="#FF233C" shape-rendering="crispEdges"/>
<rect x="269.0" y="245.0" width="15.0" height="16.0" fill="#F5F9C4" shape-rendering="crispEdges"/>
<rect x="284.0" y="245.0" width="15.0" height="16.0" fill="#F5F9C4" shape-rendering="crispEdges"/>
<rect x="299.0" y="245.0" width="15.0" height="16.0" fill="#F5F9C4" shape-rendering="crispEdges"/>
<rect x="314.0" y="245.0" width="15.0" height="16.0" fill="#F5F9C4" shape-rendering="crispEdges"/>
<rect x="329.0" y="245.0" width="15.5" height="16.0" fill="#F5F9C4" shape-rendering="crispEdges"/>
<rect x="344.5" y="245.0" width="15.5" height="16.0" fill="#D8F012" shape-rendering="crispEdges"/>
<rect x="360.0" y="245.0" width="15.0" height="16.0" fill="#F5F9C4" shape-rendering="crispEdges"/>
<rect x="375.0" y="245.0" width="15.0" height="16.0" fill="#E4F64E" shape-rendering="crispEdges"/>
<rect x="390.0" y="245.0" width="15.0" height="16.0" fill="#E4F64E" shape-rendering="crispEdges"/>
<rect x="405.0" y="245.0" width="15.0" height="16.0" fill="#E4F64E" shape-rendering="crispEdges"/>
<rect x="420.0" y="245.0" width="15.0" height="16.0" fill="#F9E404" shape-rendering="crispEdges"/>
<rect x="435.0" y="245.0" width="15.5" height="16.0" fill="#FF233C" shape-rendering="crispEdges"/>
<rect x="269.0" y="261.0" width="15.0" height="16.5" fill="#E4F64E" shape-rendering="crispEdges"/>
<rect x="284.0" y="261.0" width="15.0" height="16.5" fill="#F5F9C4" shape-rendering="crispEdges"/>
<rect x="299.0" y="261.0" width="15.0" height="16.5" fill="#F5F9C4" shape-rendering="crispEdges"/>
<rect x="314.0" y="261.0" width="15.0" height="16.5" fill="#E4F64E" shape-rendering="crispEdges"/>
<rect x="329.0" y="261.0" width="15.5" height="16.5" fill="#E4F64E" shape-rendering="crispEdges"/>
<rect x="344.5" y="261.0" width="15.5" height="16.5" fill="#F9E404" shape-rendering="crispEdges"/>
<rect x="360.0" y="261.0" width="15.0" height="16.5" fill="#F5F9C4" shape-rendering="crispEdges"/>
<rect x="375.0" y="261.0" width="15.0" height="16.5" fill="#D8F012" shape-rendering="crispEdges"/>
<rect x="390.0" y="261.0" width="15.0" height="16.5" fill="#D8F012" shape-rendering="crispEdges"/>
<rect x="405.0" y="261.0" width="15.0" height="16.5" fill="#D8F012" shape-rendering="crispEdges"/>
<rect x="420.0" y="261.0" width="15.0" height="16.5" fill="#FF5A1C" shape-rendering="crispEdges"/>
<rect x="435.0" y="261.0" width="15.5" height="16.5" fill="#FF233C" shape-rendering="crispEdges"/>
<rect x="269.0" y="277.5" width="15.0" height="17.0" fill="#D8F012" shape-rendering="crispEdges"/>
<rect x="284.0" y="277.5" width="15.0" height="17.0" fill="#E4F64E" shape-rendering="crispEdges"/>
<rect x="299.0" y="277.5" width="15.0" height="17.0" fill="#D8F012" shape-rendering="crispEdges"/>
<rect x="314.0" y="277.5" width="15.0" height="17.0" fill="#E4F64E" shape-rendering="crispEdges"/>
<rect x="329.0" y="277.5" width="15.5" height="17.0" fill="#D8F012" shape-rendering="crispEdges"/>
<rect x="344.5" y="277.5" width="15.5" height="17.0" fill="#FFA308" shape-rendering="crispEdges"/>
<rect x="360.0" y="277.5" width="15.0" height="17.0" fill="#E4F64E" shape-rendering="crispEdges"/>
<rect x="375.0" y="277.5" width="15.0" height="17.0" fill="#D8F012" shape-rendering="crispEdges"/>
<rect x="390.0" y="277.5" width="15.0" height="17.0" fill="#D8F012" shape-rendering="crispEdges"/>
<rect x="405.0" y="277.5" width="15.0" height="17.0" fill="#D8F012" shape-rendering="crispEdges"/>
<rect x="420.0" y="277.5" width="15.0" height="17.0" fill="#FF233C" shape-rendering="crispEdges"/>
<rect x="435.0" y="277.5" width="15.5" height="17.0" fill="#FF233C" shape-rendering="crispEdges"/>
<rect x="269.0" y="294.5" width="15.0" height="16.5" fill="#D8F012" shape-rendering="crispEdges"/>
<rect x="284.0" y="294.5" width="15.0" height="16.5" fill="#D8F012" shape-rendering="crispEdges"/>
<rect x="299.0" y="294.5" width="15.0" height="16.5" fill="#D8F012" shape-rendering="crispEdges"/>
<rect x="314.0" y="294.5" width="15.0" height="16.5" fill="#D8F012" shape-rendering="crispEdges"/>
<rect x="329.0" y="294.5" width="15.5" height="16.5" fill="#D8F012" shape-rendering="crispEdges"/>
<rect x="344.5" y="294.5" width="15.5" height="16.5" fill="#FF5A1C" shape-rendering="crispEdges"/>
<rect x="360.0" y="294.5" width="15.0" height="16.5" fill="#D8F012" shape-rendering="crispEdges"/>
<rect x="375.0" y="294.5" width="15.0" height="16.5" fill="#F9E404" shape-rendering="crispEdges"/>
<rect x="390.0" y="294.5" width="15.0" height="16.5" fill="#FFA308" shape-rendering="crispEdges"/>
<rect x="405.0" y="294.5" width="15.0" height="16.5" fill="#F9E404" shape-rendering="crispEdges"/>
<rect x="420.0" y="294.5" width="15.0" height="16.5" fill="#FF233C" shape-rendering="crispEdges"/>
<rect x="435.0" y="294.5" width="15.5" height="16.5" fill="#FF233C" shape-rendering="crispEdges"/>
<rect x="269.0" y="311.0" width="15.0" height="17.0" fill="#F9E404" shape-rendering="crispEdges"/>
<rect x="284.0" y="311.0" width="15.0" height="17.0" fill="#F9E404" shape-rendering="crispEdges"/>
<rect x="299.0" y="311.0" width="15.0" height="17.0" fill="#F9E404" shape-rendering="crispEdges"/>
<rect x="314.0" y="311.0" width="15.0" height="17.0" fill="#F9E404" shape-rendering="crispEdges"/>
<rect x="329.0" y="311.0" width="15.5" height="17.0" fill="#F9E404" shape-rendering="crispEdges"/>
<rect x="344.5" y="311.0" width="15.5" height="17.0" fill="#FF233C" shape-rendering="crispEdges"/>
<rect x="360.0" y="311.0" width="15.0" height="17.0" fill="#F9E404" shape-rendering="crispEdges"/>
<rect x="375.0" y="311.0" width="15.0" height="17.0" fill="#FF7C14" shape-rendering="crispEdges"/>
<rect x="390.0" y="311.0" width="15.0" height="17.0" fill="#FF7C14" shape-rendering="crispEdges"/>
<rect x="405.0" y="311.0" width="15.0" height="17.0" fill="#FF7C14" shape-rendering="crispEdges"/>
<rect x="420.0" y="311.0" width="15.0" height="17.0" fill="#FF233C" shape-rendering="crispEdges"/>
<rect x="435.0" y="311.0" width="15.5" height="17.0" fill="#FF233C" shape-rendering="crispEdges"/>
<rect x="269.0" y="328.0" width="15.0" height="16.5" fill="#FFA308" shape-rendering="crispEdges"/>
<rect x="284.0" y="328.0" width="15.0" height="16.5" fill="#FFA308" shape-rendering="crispEdges"/>
<rect x="299.0" y="328.0" width="15.0" height="16.5" fill="#FFA308" shape-rendering="crispEdges"/>
<rect x="314.0" y="328.0" width="15.0" height="16.5" fill="#FFA308" shape-rendering="crispEdges"/>
<rect x="329.0" y="328.0" width="15.5" height="16.5" fill="#FFA308" shape-rendering="crispEdges"/>
<rect x="344.5" y="328.0" width="15.5" height="16.5" fill="#FF233C" shape-rendering="crispEdges"/>
<rect x="360.0" y="328.0" width="15.0" height="16.5" fill="#FFA308" shape-rendering="crispEdges"/>
<rect x="375.0" y="328.0" width="15.0" height="16.5" fill="#FF5A1C" shape-rendering="crispEdges"/>
<rect x="390.0" y="328.0" width="15.0" height="16.5" fill="#FF3A24" shape-rendering="crispEdges"/>
<rect x="405.0" y="328.0" width="15.0" height="16.5" fill="#FF5A1C" shape-rendering="crispEdges"/>
<rect x="420.0" y="328.0" width="15.0" height="16.5" fill="#FF233C" shape-rendering="crispEdges"/>
<rect x="435.0" y="328.0" width="15.5" height="16.5" fill="#FF233C" shape-rendering="crispEdges"/>
<rect x="269.0" y="344.5" width="15.0" height="16.5" fill="#FF7C14" shape-rendering="crispEdges"/>
<rect x="284.0" y="344.5" width="15.0" height="16.5" fill="#FF7C14" shape-rendering="crispEdges"/>
<rect x="299.0" y="344.5" width="15.0" height="16.5" fill="#FF7C14" shape-rendering="crispEdges"/>
<rect x="314.0" y="344.5" width="15.0" height="16.5" fill="#FF7C14" shape-rendering="crispEdges"/>
<rect x="329.0" y="344.5" width="15.5" height="16.5" fill="#FF7C14" shape-rendering="crispEdges"/>
<rect x="344.5" y="344.5" width="15.5" height="16.5" fill="#FF233C" shape-rendering="crispEdges"/>
<rect x="360.0" y="344.5" width="15.0" height="16.5" fill="#FF7C14" shape-rendering="crispEdges"/>
<rect x="375.0" y="344.5" width="15.0" height="16.5" fill="#FF3A24" shape-rendering="crispEdges"/>
<rect x="390.0" y="344.5" width="15.0" height="16.5" fill="#FF233C" shape-rendering="crispEdges"/>
<rect x="405.0" y="344.5" width="15.0" height="16.5" fill="#FF3A24" shape-rendering="crispEdges"/>
<rect x="420.0" y="344.5" width="15.0" height="16.5" fill="#FF233C" shape-rendering="crispEdges"/>
<rect x="435.0" y="344.5" width="15.5" height="16.5" fill="#FF233C" shape-rendering="crispEdges"/>
<rect x="269.0" y="361.0" width="15.0" height="16.0" fill="#FF5A1C" shape-rendering="crispEdges"/>
<rect x="284.0" y="361.0" width="15.0" height="16.0" fill="#FF5A1C" shape-rendering="crispEdges"/>
<rect x="299.0" y="361.0" width="15.0" height="16.0" fill="#FF5A1C" shape-rendering="crispEdges"/>
<rect x="314.0" y="361.0" width="15.0" height="16.0" fill="#FF5A1C" shape-rendering="crispEdges"/>
<rect x="329.0" y="361.0" width="15.5" height="16.0" fill="#FF5A1C" shape-rendering="crispEdges"/>
<rect x="344.5" y="361.0" width="15.5" height="16.0" fill="#FF233C" shape-rendering="crispEdges"/>
<rect x="360.0" y="361.0" width="15.0" height="16.0" fill="#FF5A1C" shape-rendering="crispEdges"/>
<rect x="375.0" y="361.0" width="15.0" height="16.0" fill="#FF233C" shape-rendering="crispEdges"/>
<rect x="390.0" y="361.0" width="15.0" height="16.0" fill="#FF233C" shape-rendering="crispEdges"/>
<rect x="405.0" y="361.0" width="15.0" height="16.0" fill="#FF233C" shape-rendering="crispEdges"/>
<rect x="420.0" y="361.0" width="15.0" height="16.0" fill="#FF233C" shape-rendering="crispEdges"/>
<rect x="435.0" y="361.0" width="15.5" height="16.0" fill="#FF233C" shape-rendering="crispEdges"/>
<text transform="translate(426.3,64.3) scale(1,1.07)" font-size="9" fill="#000" text-anchor="middle" stroke="#000" stroke-width="0.15" font-family="Liberation Sans, sans-serif">NA</text>
<text transform="translate(357.5,19.7) scale(1,1.07)" font-size="13" font-style="italic" text-anchor="middle" stroke="#000" stroke-width="0.15" font-family="Liberation Sans, sans-serif">Ter</text>
<line x1="272.3" y1="23.2" x2="438.3" y2="23.2" stroke="#000" stroke-width="1.5"/>
<text transform="translate(277,49.7) scale(1,1.1)" font-size="13.2" text-anchor="middle" stroke="#000" stroke-width="0.2" font-family="Liberation Sans, sans-serif">A</text>
<text transform="translate(292.2,49.7) scale(1,1.1)" font-size="13.2" text-anchor="middle" stroke="#000" stroke-width="0.2" font-family="Liberation Sans, sans-serif">B</text>
<text transform="translate(307.7,49.7) scale(1,1.1)" font-size="13.2" text-anchor="middle" stroke="#000" stroke-width="0.2" font-family="Liberation Sans, sans-serif">C</text>
<text transform="translate(323.2,49.7) scale(1,1.1)" font-size="13.2" text-anchor="middle" stroke="#000" stroke-width="0.2" font-family="Liberation Sans, sans-serif">D</text>
<text transform="translate(338.2,49.7) scale(1,1.1)" font-size="13.2" text-anchor="middle" stroke="#000" stroke-width="0.2" font-family="Liberation Sans, sans-serif">E</text>
<text transform="translate(352.8,49.7) scale(1,1.1)" font-size="13.2" text-anchor="middle" stroke="#000" stroke-width="0.2" font-family="Liberation Sans, sans-serif">F</text>
<text transform="translate(369.5,49.7) scale(1,1.1)" font-size="13.2" text-anchor="middle" stroke="#000" stroke-width="0.2" font-family="Liberation Sans, sans-serif">G</text>
<text transform="translate(384.8,49.7) scale(1,1.1)" font-size="13.2" text-anchor="middle" stroke="#000" stroke-width="0.2" font-family="Liberation Sans, sans-serif">H</text>
<text transform="translate(396.5,49.7) scale(1,1.1)" font-size="13.2" text-anchor="middle" stroke="#000" stroke-width="0.2" font-family="Liberation Sans, sans-serif">I</text>
<text transform="translate(412.4,49.7) scale(1,1.1)" font-size="13.2" text-anchor="middle" stroke="#000" stroke-width="0.2" font-family="Liberation Sans, sans-serif">J</text>
<text transform="translate(424.5,49.5) rotate(-45) scale(1,1.07)" font-size="13" stroke="#000" stroke-width="0.15" font-family="Liberation Sans, sans-serif">oriC</text>
<path d="M263.6,52.6 L263.6,184.2 L248.6,184.2 Z" fill="none" stroke="#000" stroke-width="1.3"/>
<text transform="translate(259.8,180.9) rotate(-90)" font-size="9" font-weight="bold" font-family="Liberation Sans, sans-serif">[KCl]</text>
<text transform="translate(369.6,213) scale(1,1.07)" font-size="13" font-style="italic" text-anchor="middle" stroke="#000" stroke-width="0.15" font-family="Liberation Sans, sans-serif">Ter-lock</text>
<line x1="273.4" y1="215.9" x2="439.3" y2="215.9" stroke="#000" stroke-width="1.5"/>
<text transform="translate(277.7,242.3) scale(1,1.1)" font-size="13.2" text-anchor="middle" stroke="#000" stroke-width="0.2" font-family="Liberation Sans, sans-serif">A</text>
<text transform="translate(293.4,242.3) scale(1,1.1)" font-size="13.2" text-anchor="middle" stroke="#000" stroke-width="0.2" font-family="Liberation Sans, sans-serif">B</text>
<text transform="translate(309,242.3) scale(1,1.1)" font-size="13.2" text-anchor="middle" stroke="#000" stroke-width="0.2" font-family="Liberation Sans, sans-serif">C</text>
<text transform="translate(324.4,242.3) scale(1,1.1)" font-size="13.2" text-anchor="middle" stroke="#000" stroke-width="0.2" font-family="Liberation Sans, sans-serif">D</text>
<text transform="translate(339.2,242.3) scale(1,1.1)" font-size="13.2" text-anchor="middle" stroke="#000" stroke-width="0.2" font-family="Liberation Sans, sans-serif">E</text>
<text transform="translate(353.6,242.3) scale(1,1.1)" font-size="13.2" text-anchor="middle" stroke="#000" stroke-width="0.2" font-family="Liberation Sans, sans-serif">F</text>
<text transform="translate(370.6,242.3) scale(1,1.1)" font-size="13.2" text-anchor="middle" stroke="#000" stroke-width="0.2" font-family="Liberation Sans, sans-serif">G</text>
<text transform="translate(385.4,242.3) scale(1,1.1)" font-size="13.2" text-anchor="middle" stroke="#000" stroke-width="0.2" font-family="Liberation Sans, sans-serif">H</text>
<text transform="translate(397.5,242.3) scale(1,1.1)" font-size="13.2" text-anchor="middle" stroke="#000" stroke-width="0.2" font-family="Liberation Sans, sans-serif">I</text>
<text transform="translate(414.2,242.3) scale(1,1.1)" font-size="13.2" text-anchor="middle" stroke="#000" stroke-width="0.2" font-family="Liberation Sans, sans-serif">J</text>
<text transform="translate(426,242.5) rotate(-45) scale(1,1.07)" font-size="13" stroke="#000" stroke-width="0.15" font-family="Liberation Sans, sans-serif">oriC</text>
<text transform="translate(444.5,242.5) rotate(-45) scale(1,1.07)" font-size="13.5" stroke="#000" stroke-width="0.15" font-family="Liberation Sans, sans-serif">Tus-GFP</text>
<path d="M262.7,245.6 L262.7,377.1 L247.6,377.1 Z" fill="none" stroke="#000" stroke-width="1.3"/>
<text transform="translate(259.4,373.3) rotate(-90)" font-size="9" font-weight="bold" font-family="Liberation Sans, sans-serif">[KCl]</text>
<text transform="translate(306,410.4) scale(1,1.07)" font-size="10.6" stroke="#000" stroke-width="0.15" font-family="Liberation Sans, sans-serif">r(1063)=0.9989, p&lt;0.0001</text>
<path d="M281.0,411.245 L281.0,541.2 L476.125,541.2" fill="none" stroke="#000" stroke-width="1.8"/>
<line x1="276.50" y1="541.20" x2="281.0" y2="541.20" stroke="#000" stroke-width="1.4"/>
<line x1="278.20" y1="522.63" x2="281.0" y2="522.63" stroke="#000" stroke-width="1.4"/>
<line x1="276.50" y1="504.07" x2="281.0" y2="504.07" stroke="#000" stroke-width="1.4"/>
<line x1="278.20" y1="485.51" x2="281.0" y2="485.51" stroke="#000" stroke-width="1.4"/>
<line x1="276.50" y1="466.94" x2="281.0" y2="466.94" stroke="#000" stroke-width="1.4"/>
<line x1="278.20" y1="448.38" x2="281.0" y2="448.38" stroke="#000" stroke-width="1.4"/>
<line x1="276.50" y1="429.81" x2="281.0" y2="429.81" stroke="#000" stroke-width="1.4"/>
<line x1="278.20" y1="411.25" x2="281.0" y2="411.25" stroke="#000" stroke-width="1.4"/>
<line x1="281.00" y1="541.2" x2="281.00" y2="545.70" stroke="#000" stroke-width="1.4"/>
<line x1="308.88" y1="541.2" x2="308.88" y2="544.00" stroke="#000" stroke-width="1.4"/>
<line x1="336.75" y1="541.2" x2="336.75" y2="545.70" stroke="#000" stroke-width="1.4"/>
<line x1="364.62" y1="541.2" x2="364.62" y2="544.00" stroke="#000" stroke-width="1.4"/>
<line x1="392.50" y1="541.2" x2="392.50" y2="545.70" stroke="#000" stroke-width="1.4"/>
<line x1="420.38" y1="541.2" x2="420.38" y2="544.00" stroke="#000" stroke-width="1.4"/>
<line x1="448.25" y1="541.2" x2="448.25" y2="545.70" stroke="#000" stroke-width="1.4"/>
<line x1="476.12" y1="541.2" x2="476.12" y2="544.00" stroke="#000" stroke-width="1.4"/>
<text x="275.3" y="544.50" font-size="9.3" font-weight="bold" text-anchor="end" stroke="#000" stroke-width="0.15" font-family="Liberation Sans, sans-serif">40</text>
<text x="275.3" y="507.37" font-size="9.3" font-weight="bold" text-anchor="end" stroke="#000" stroke-width="0.15" font-family="Liberation Sans, sans-serif">50</text>
<text x="275.3" y="470.24" font-size="9.3" font-weight="bold" text-anchor="end" stroke="#000" stroke-width="0.15" font-family="Liberation Sans, sans-serif">60</text>
<text x="275.3" y="433.11" font-size="9.3" font-weight="bold" text-anchor="end" stroke="#000" stroke-width="0.15" font-family="Liberation Sans, sans-serif">70</text>
<text x="281.00" y="555.8" font-size="9.3" font-weight="bold" text-anchor="middle" stroke="#000" stroke-width="0.15" font-family="Liberation Sans, sans-serif">40</text>
<text x="336.75" y="555.8" font-size="9.3" font-weight="bold" text-anchor="middle" stroke="#000" stroke-width="0.15" font-family="Liberation Sans, sans-serif">50</text>
<text x="392.50" y="555.8" font-size="9.3" font-weight="bold" text-anchor="middle" stroke="#000" stroke-width="0.15" font-family="Liberation Sans, sans-serif">60</text>
<text x="448.25" y="555.8" font-size="9.3" font-weight="bold" text-anchor="middle" stroke="#000" stroke-width="0.15" font-family="Liberation Sans, sans-serif">70</text>
<text x="295" y="570.3" font-size="10.5" font-weight="bold" stroke="#000" stroke-width="0.15" font-family="Liberation Sans, sans-serif"><tspan font-style="italic">T</tspan><tspan font-size="8.5" dy="1.6" font-style="italic">m</tspan><tspan dy="-1.6"> (Automatic peak recognition)</tspan></text>
<text transform="translate(256.8,540.6) rotate(-90)" font-size="10.2" font-weight="bold" stroke="#000" stroke-width="0.15" font-family="Liberation Sans, sans-serif"><tspan font-style="italic">T</tspan><tspan font-size="8.5" dy="1.6" font-style="italic">m</tspan><tspan dy="-1.6"> (Visual curve analyzis)</tspan></text>
<path d="M365.8,481.1V489.2M364.5,481.1h2.6M364.5,489.2h2.6" stroke="#FF1030" stroke-width="1.4" fill="none"/>
<path d="M359.8,483.9V491.5M358.5,483.9h2.6M358.5,491.5h2.6" stroke="#FF1030" stroke-width="1.4" fill="none"/>
<path d="M403.2,458.8V464.5M401.9,458.8h2.6M401.9,464.5h2.6" stroke="#FF1030" stroke-width="1.4" fill="none"/>
<path d="M325.4,510.6V515.5M324.1,510.6h2.6M324.1,515.5h2.6" stroke="#FF1030" stroke-width="1.4" fill="none"/>
<path d="M327.3,508.5V513.6M326.0,508.5h2.6M326.0,513.6h2.6" stroke="#FF1030" stroke-width="1.4" fill="none"/>
<path d="M329.0,506.6V514.1M327.7,506.6h2.6M327.7,514.1h2.6" stroke="#FF1030" stroke-width="1.4" fill="none"/>
<path d="M422.8,445.1V450.5M421.5,445.1h2.6M421.5,450.5h2.6" stroke="#FF1030" stroke-width="1.4" fill="none"/>
<path d="M353.9,488.7V494.9M352.6,488.7h2.6M352.6,494.9h2.6" stroke="#FF1030" stroke-width="1.4" fill="none"/>
<path d="M337.7,499.8V507.9M336.4,499.8h2.6M336.4,507.9h2.6" stroke="#FF1030" stroke-width="1.4" fill="none"/>
<path d="M434.9,437.2V443.7M433.6,437.2h2.6M433.6,443.7h2.6" stroke="#FF1030" stroke-width="1.4" fill="none"/>
<path d="M348.1,492.1V497.8M346.8,492.1h2.6M346.8,497.8h2.6" stroke="#FF1030" stroke-width="1.4" fill="none"/>
<path d="M319.0,514.4V520.3M317.7,514.4h2.6M317.7,520.3h2.6" stroke="#FF1030" stroke-width="1.4" fill="none"/>
<path d="M375.5,475.1V481.4M374.2,475.1h2.6M374.2,481.4h2.6" stroke="#FF1030" stroke-width="1.4" fill="none"/>
<path d="M319.5,514.1V519.6M318.2,514.1h2.6M318.2,519.6h2.6" stroke="#FF1030" stroke-width="1.4" fill="none"/>
<path d="M329.6,507.2V511.8M328.3,507.2h2.6M328.3,511.8h2.6" stroke="#FF1030" stroke-width="1.4" fill="none"/>
<path d="M355.2,487.7V493.0M353.9,487.7h2.6M353.9,493.0h2.6" stroke="#FF1030" stroke-width="1.4" fill="none"/>
<path d="M388.8,467.5V474.4M387.5,467.5h2.6M387.5,474.4h2.6" stroke="#FF1030" stroke-width="1.4" fill="none"/>
<path d="M404.3,456.9V464.6M403.0,456.9h2.6M403.0,464.6h2.6" stroke="#FF1030" stroke-width="1.4" fill="none"/>
<path d="M365.4,482.8V487.8M364.1,482.8h2.6M364.1,487.8h2.6" stroke="#FF1030" stroke-width="1.4" fill="none"/>
<path d="M405.3,454.5V461.4M404.0,454.5h2.6M404.0,461.4h2.6" stroke="#FF1030" stroke-width="1.4" fill="none"/>
<path d="M324.1,509.2V516.0M322.8,509.2h2.6M322.8,516.0h2.6" stroke="#FF1030" stroke-width="1.4" fill="none"/>
<path d="M406.5,456.6V464.1M405.2,456.6h2.6M405.2,464.1h2.6" stroke="#FF1030" stroke-width="1.4" fill="none"/>
<path d="M335.5,502.0V509.6M334.2,502.0h2.6M334.2,509.6h2.6" stroke="#FF1030" stroke-width="1.4" fill="none"/>
<path d="M414.9,449.0V456.5M413.6,449.0h2.6M413.6,456.5h2.6" stroke="#FF1030" stroke-width="1.4" fill="none"/>
<path d="M388.6,465.4V472.4M387.3,465.4h2.6M387.3,472.4h2.6" stroke="#FF1030" stroke-width="1.4" fill="none"/>
<path d="M346.3,495.3V499.9M345.0,495.3h2.6M345.0,499.9h2.6" stroke="#FF1030" stroke-width="1.4" fill="none"/>
<path d="M334.8,501.9V509.5M333.5,501.9h2.6M333.5,509.5h2.6" stroke="#FF1030" stroke-width="1.4" fill="none"/>
<path d="M385.5,467.9V474.7M384.2,467.9h2.6M384.2,474.7h2.6" stroke="#FF1030" stroke-width="1.4" fill="none"/>
<path d="M393.6,465.0V469.4M392.3,465.0h2.6M392.3,469.4h2.6" stroke="#FF1030" stroke-width="1.4" fill="none"/>
<path d="M414.1,450.4V457.7M412.8,450.4h2.6M412.8,457.7h2.6" stroke="#FF1030" stroke-width="1.4" fill="none"/>
<path d="M378.9,474.3V479.0M377.6,474.3h2.6M377.6,479.0h2.6" stroke="#FF1030" stroke-width="1.4" fill="none"/>
<path d="M406.8,456.3V461.7M405.5,456.3h2.6M405.5,461.7h2.6" stroke="#FF1030" stroke-width="1.4" fill="none"/>
<path d="M327.8,508.2V513.4M326.5,508.2h2.6M326.5,513.4h2.6" stroke="#FF1030" stroke-width="1.4" fill="none"/>
<path d="M407.2,453.2V461.3M405.9,453.2h2.6M405.9,461.3h2.6" stroke="#FF1030" stroke-width="1.4" fill="none"/>
<path d="M377.8,473.4V480.4M376.5,473.4h2.6M376.5,480.4h2.6" stroke="#FF1030" stroke-width="1.4" fill="none"/>
<path d="M410.4,452.1V458.8M409.1,452.1h2.6M409.1,458.8h2.6" stroke="#FF1030" stroke-width="1.4" fill="none"/>
<path d="M395.6,462.6V468.0M394.3,462.6h2.6M394.3,468.0h2.6" stroke="#FF1030" stroke-width="1.4" fill="none"/>
<path d="M407.6,455.2V460.8M406.3,455.2h2.6M406.3,460.8h2.6" stroke="#FF1030" stroke-width="1.4" fill="none"/>
<path d="M386.6,468.0V473.4M385.3,468.0h2.6M385.3,473.4h2.6" stroke="#FF1030" stroke-width="1.4" fill="none"/>
<path d="M399.1,460.1V467.1M397.8,460.1h2.6M397.8,467.1h2.6" stroke="#FF1030" stroke-width="1.4" fill="none"/>
<path d="M399.5,460.5V466.7M398.2,460.5h2.6M398.2,466.7h2.6" stroke="#FF1030" stroke-width="1.4" fill="none"/>
<path d="M374.5,475.1V480.0M373.2,475.1h2.6M373.2,480.0h2.6" stroke="#FF1030" stroke-width="1.4" fill="none"/>
<path d="M425.5,441.3V449.3M424.2,441.3h2.6M424.2,449.3h2.6" stroke="#FF1030" stroke-width="1.4" fill="none"/>
<path d="M321.0,510.7V516.9M319.7,510.7h2.6M319.7,516.9h2.6" stroke="#FF1030" stroke-width="1.4" fill="none"/>
<path d="M416.7,447.8V453.2M415.4,447.8h2.6M415.4,453.2h2.6" stroke="#FF1030" stroke-width="1.4" fill="none"/>
<path d="M343.9,494.8V502.8M342.6,494.8h2.6M342.6,502.8h2.6" stroke="#FF1030" stroke-width="1.4" fill="none"/>
<path d="M344.0,495.7V502.1M342.7,495.7h2.6M342.7,502.1h2.6" stroke="#FF1030" stroke-width="1.4" fill="none"/>
<path d="M432.6,439.7V444.7M431.3,439.7h2.6M431.3,444.7h2.6" stroke="#FF1030" stroke-width="1.4" fill="none"/>
<path d="M416.8,449.3V456.3M415.5,449.3h2.6M415.5,456.3h2.6" stroke="#FF1030" stroke-width="1.4" fill="none"/>
<path d="M346.5,492.9V500.7M345.2,492.9h2.6M345.2,500.7h2.6" stroke="#FF1030" stroke-width="1.4" fill="none"/>
<path d="M376.9,473.7V480.0M375.6,473.7h2.6M375.6,480.0h2.6" stroke="#FF1030" stroke-width="1.4" fill="none"/>
<path d="M372.7,476.8V482.4M371.4,476.8h2.6M371.4,482.4h2.6" stroke="#FF1030" stroke-width="1.4" fill="none"/>
<path d="M335.7,501.4V508.9M334.4,501.4h2.6M334.4,508.9h2.6" stroke="#FF1030" stroke-width="1.4" fill="none"/>
<path d="M319.1,513.0V520.2M317.8,513.0h2.6M317.8,520.2h2.6" stroke="#FF1030" stroke-width="1.4" fill="none"/>
<path d="M419.0,444.8V451.9M417.7,444.8h2.6M417.7,451.9h2.6" stroke="#FF1030" stroke-width="1.4" fill="none"/>
<circle cx="305.6" cy="527.7" r="1.35" fill="#000"/>
<circle cx="301.6" cy="530.7" r="1.35" fill="#000"/>
<circle cx="308.9" cy="525.6" r="1.35" fill="#000"/>
<circle cx="308.4" cy="525.7" r="1.35" fill="#000"/>
<circle cx="301.1" cy="532.0" r="1.35" fill="#000"/>
<circle cx="301.9" cy="531.1" r="1.35" fill="#000"/>
<circle cx="307.1" cy="526.8" r="1.35" fill="#000"/>
<circle cx="304.0" cy="529.7" r="1.35" fill="#000"/>
<circle cx="310.3" cy="523.6" r="1.35" fill="#000"/>
<circle cx="306.7" cy="527.5" r="1.35" fill="#000"/>
<circle cx="315.8" cy="518.8" r="1.35" fill="#000"/>
<circle cx="305.0" cy="528.3" r="1.35" fill="#000"/>
<circle cx="302.8" cy="530.1" r="1.35" fill="#000"/>
<circle cx="313.3" cy="521.6" r="1.35" fill="#000"/>
<circle cx="303.3" cy="530.7" r="1.35" fill="#000"/>
<circle cx="306.3" cy="528.0" r="1.35" fill="#000"/>
<circle cx="309.1" cy="525.2" r="1.35" fill="#000"/>
<circle cx="303.7" cy="529.6" r="1.35" fill="#000"/>
<circle cx="311.1" cy="524.1" r="1.35" fill="#000"/>
<circle cx="309.7" cy="524.6" r="1.35" fill="#000"/>
<circle cx="307.6" cy="526.9" r="1.35" fill="#000"/>
<circle cx="311.4" cy="522.5" r="1.35" fill="#000"/>
<circle cx="303.3" cy="533.4" r="1.35" fill="#000"/>
<circle cx="306.6" cy="530.2" r="1.35" fill="#000"/>
<circle cx="310.0" cy="528.7" r="1.35" fill="#000"/>
<circle cx="312.2" cy="526.2" r="1.35" fill="#000"/>
<circle cx="418.1" cy="450.7" r="1.35" fill="#000"/>
<circle cx="335.0" cy="503.3" r="1.35" fill="#000"/>
<circle cx="375.8" cy="477.6" r="1.35" fill="#000"/>
<circle cx="385.4" cy="472.1" r="1.35" fill="#000"/>
<circle cx="324.2" cy="513.9" r="1.35" fill="#000"/>
<circle cx="396.9" cy="466.0" r="1.35" fill="#000"/>
<circle cx="438.0" cy="439.2" r="1.35" fill="#000"/>
<circle cx="399.8" cy="462.1" r="1.35" fill="#000"/>
<circle cx="397.8" cy="465.7" r="1.35" fill="#000"/>
<circle cx="447.4" cy="431.0" r="1.35" fill="#000"/>
<circle cx="383.4" cy="473.0" r="1.35" fill="#000"/>
<circle cx="414.3" cy="453.3" r="1.35" fill="#000"/>
<circle cx="406.9" cy="457.3" r="1.35" fill="#000"/>
<circle cx="357.6" cy="489.0" r="1.35" fill="#000"/>
<circle cx="371.4" cy="480.6" r="1.35" fill="#000"/>
<circle cx="381.7" cy="474.0" r="1.35" fill="#000"/>
<circle cx="341.8" cy="500.1" r="1.35" fill="#000"/>
<circle cx="423.4" cy="447.0" r="1.35" fill="#000"/>
<circle cx="336.5" cy="504.2" r="1.35" fill="#000"/>
<circle cx="437.4" cy="438.4" r="1.35" fill="#000"/>
<circle cx="329.9" cy="510.0" r="1.35" fill="#000"/>
<circle cx="439.1" cy="437.6" r="1.35" fill="#000"/>
<circle cx="430.4" cy="442.8" r="1.35" fill="#000"/>
<circle cx="375.4" cy="478.3" r="1.35" fill="#000"/>
<circle cx="367.7" cy="481.5" r="1.35" fill="#000"/>
<circle cx="339.4" cy="503.2" r="1.35" fill="#000"/>
<circle cx="342.9" cy="499.4" r="1.35" fill="#000"/>
<circle cx="384.9" cy="471.5" r="1.35" fill="#000"/>
<circle cx="399.0" cy="463.6" r="1.35" fill="#000"/>
<circle cx="375.9" cy="477.5" r="1.35" fill="#000"/>
<circle cx="369.1" cy="483.6" r="1.35" fill="#000"/>
<circle cx="412.8" cy="454.9" r="1.35" fill="#000"/>
<circle cx="389.0" cy="470.4" r="1.35" fill="#000"/>
<circle cx="326.3" cy="512.6" r="1.35" fill="#000"/>
<circle cx="441.3" cy="435.9" r="1.35" fill="#000"/>
<circle cx="427.4" cy="446.4" r="1.35" fill="#000"/>
<circle cx="372.3" cy="480.2" r="1.35" fill="#000"/>
<circle cx="405.2" cy="459.7" r="1.35" fill="#000"/>
<circle cx="327.4" cy="510.5" r="1.35" fill="#000"/>
<circle cx="341.0" cy="500.6" r="1.35" fill="#000"/>
<circle cx="365.2" cy="484.4" r="1.35" fill="#000"/>
<circle cx="339.5" cy="502.0" r="1.35" fill="#000"/>
<circle cx="332.7" cy="507.1" r="1.35" fill="#000"/>
<circle cx="437.8" cy="438.7" r="1.35" fill="#000"/>
<circle cx="402.4" cy="461.3" r="1.35" fill="#000"/>
<circle cx="366.2" cy="483.3" r="1.35" fill="#000"/>
<circle cx="368.4" cy="481.4" r="1.35" fill="#000"/>
<circle cx="454.0" cy="424.5" r="1.35" fill="#000"/>
<circle cx="382.3" cy="473.8" r="1.35" fill="#000"/>
<circle cx="332.8" cy="506.9" r="1.35" fill="#000"/>
<circle cx="365.5" cy="484.3" r="1.35" fill="#000"/>
<circle cx="340.9" cy="499.6" r="1.35" fill="#000"/>
<circle cx="322.1" cy="514.1" r="1.35" fill="#000"/>
<circle cx="338.9" cy="502.7" r="1.35" fill="#000"/>
<circle cx="392.8" cy="466.4" r="1.35" fill="#000"/>
<circle cx="452.0" cy="427.6" r="1.35" fill="#000"/>
<circle cx="436.3" cy="440.1" r="1.35" fill="#000"/>
<circle cx="368.8" cy="482.7" r="1.35" fill="#000"/>
<circle cx="341.6" cy="500.2" r="1.35" fill="#000"/>
<circle cx="424.9" cy="447.2" r="1.35" fill="#000"/>
<circle cx="363.8" cy="485.0" r="1.35" fill="#000"/>
<circle cx="452.9" cy="425.7" r="1.35" fill="#000"/>
<circle cx="434.9" cy="440.2" r="1.35" fill="#000"/>
<circle cx="419.6" cy="450.6" r="1.35" fill="#000"/>
<circle cx="349.8" cy="495.0" r="1.35" fill="#000"/>
<circle cx="322.9" cy="514.4" r="1.35" fill="#000"/>
<circle cx="322.7" cy="514.6" r="1.35" fill="#000"/>
<circle cx="413.1" cy="453.4" r="1.35" fill="#000"/>
<circle cx="449.0" cy="431.7" r="1.35" fill="#000"/>
<circle cx="453.3" cy="425.9" r="1.35" fill="#000"/>
<circle cx="448.8" cy="430.6" r="1.35" fill="#000"/>
<circle cx="349.8" cy="493.9" r="1.35" fill="#000"/>
<circle cx="345.7" cy="497.1" r="1.35" fill="#000"/>
<circle cx="441.4" cy="435.1" r="1.35" fill="#000"/>
<circle cx="433.2" cy="442.7" r="1.35" fill="#000"/>
<circle cx="427.7" cy="444.6" r="1.35" fill="#000"/>
<circle cx="330.4" cy="509.6" r="1.35" fill="#000"/>
<circle cx="425.3" cy="447.4" r="1.35" fill="#000"/>
<circle cx="421.0" cy="449.0" r="1.35" fill="#000"/>
<circle cx="426.3" cy="445.5" r="1.35" fill="#000"/>
<circle cx="364.1" cy="484.4" r="1.35" fill="#000"/>
<circle cx="372.8" cy="481.5" r="1.35" fill="#000"/>
<circle cx="373.5" cy="478.0" r="1.35" fill="#000"/>
<circle cx="342.0" cy="500.5" r="1.35" fill="#000"/>
<circle cx="336.2" cy="503.5" r="1.35" fill="#000"/>
<circle cx="428.6" cy="442.9" r="1.35" fill="#000"/>
<circle cx="338.8" cy="501.5" r="1.35" fill="#000"/>
<circle cx="408.3" cy="459.4" r="1.35" fill="#000"/>
<circle cx="366.6" cy="483.9" r="1.35" fill="#000"/>
<circle cx="320.8" cy="516.0" r="1.35" fill="#000"/>
<circle cx="451.0" cy="429.1" r="1.35" fill="#000"/>
<circle cx="445.9" cy="433.3" r="1.35" fill="#000"/>
<circle cx="377.9" cy="475.3" r="1.35" fill="#000"/>
<circle cx="347.6" cy="496.9" r="1.35" fill="#000"/>
<circle cx="353.2" cy="491.9" r="1.35" fill="#000"/>
<circle cx="398.7" cy="463.3" r="1.35" fill="#000"/>
<circle cx="354.2" cy="491.4" r="1.35" fill="#000"/>
<circle cx="442.7" cy="434.8" r="1.35" fill="#000"/>
<circle cx="367.0" cy="484.2" r="1.35" fill="#000"/>
<circle cx="441.9" cy="435.4" r="1.35" fill="#000"/>
<circle cx="376.1" cy="476.6" r="1.35" fill="#000"/>
<circle cx="391.3" cy="468.7" r="1.35" fill="#000"/>
<circle cx="390.1" cy="468.1" r="1.35" fill="#000"/>
<circle cx="343.8" cy="498.7" r="1.35" fill="#000"/>
<circle cx="319.4" cy="516.8" r="1.35" fill="#000"/>
<circle cx="383.3" cy="473.3" r="1.35" fill="#000"/>
<circle cx="417.6" cy="451.3" r="1.35" fill="#000"/>
<circle cx="389.4" cy="469.5" r="1.35" fill="#000"/>
<circle cx="394.5" cy="466.2" r="1.35" fill="#000"/>
<circle cx="395.1" cy="466.3" r="1.35" fill="#000"/>
<circle cx="352.7" cy="492.3" r="1.35" fill="#000"/>
<circle cx="388.0" cy="468.9" r="1.35" fill="#000"/>
<circle cx="395.3" cy="465.7" r="1.35" fill="#000"/>
<circle cx="379.2" cy="477.0" r="1.35" fill="#000"/>
<circle cx="402.2" cy="462.6" r="1.35" fill="#000"/>
<circle cx="413.1" cy="454.0" r="1.35" fill="#000"/>
<circle cx="380.4" cy="475.4" r="1.35" fill="#000"/>
<circle cx="447.0" cy="431.9" r="1.35" fill="#000"/>
<circle cx="414.0" cy="452.0" r="1.35" fill="#000"/>
<circle cx="354.2" cy="492.3" r="1.35" fill="#000"/>
<circle cx="395.0" cy="464.7" r="1.35" fill="#000"/>
<circle cx="337.6" cy="503.9" r="1.35" fill="#000"/>
<circle cx="335.5" cy="505.2" r="1.35" fill="#000"/>
<circle cx="351.6" cy="492.8" r="1.35" fill="#000"/>
<circle cx="328.9" cy="510.5" r="1.35" fill="#000"/>
<circle cx="440.9" cy="437.6" r="1.35" fill="#000"/>
<circle cx="339.9" cy="501.9" r="1.35" fill="#000"/>
<circle cx="338.4" cy="503.9" r="1.35" fill="#000"/>
<circle cx="439.0" cy="437.4" r="1.35" fill="#000"/>
<circle cx="448.5" cy="430.6" r="1.35" fill="#000"/>
<circle cx="373.1" cy="481.6" r="1.35" fill="#000"/>
<circle cx="432.1" cy="442.0" r="1.35" fill="#000"/>
<circle cx="340.9" cy="501.8" r="1.35" fill="#000"/>
<circle cx="365.0" cy="484.1" r="1.35" fill="#000"/>
<circle cx="345.5" cy="498.0" r="1.35" fill="#000"/>
<circle cx="321.6" cy="514.2" r="1.35" fill="#000"/>
<circle cx="394.3" cy="466.6" r="1.35" fill="#000"/>
<circle cx="364.0" cy="485.1" r="1.35" fill="#000"/>
<circle cx="403.8" cy="461.1" r="1.35" fill="#000"/>
<circle cx="452.9" cy="427.1" r="1.35" fill="#000"/>
<circle cx="426.2" cy="445.3" r="1.35" fill="#000"/>
<circle cx="355.0" cy="490.6" r="1.35" fill="#000"/>
<circle cx="324.3" cy="513.2" r="1.35" fill="#000"/>
<circle cx="336.5" cy="504.8" r="1.35" fill="#000"/>
<circle cx="376.3" cy="476.1" r="1.35" fill="#000"/>
<circle cx="354.1" cy="491.8" r="1.35" fill="#000"/>
<circle cx="339.2" cy="501.3" r="1.35" fill="#000"/>
<circle cx="414.2" cy="453.7" r="1.35" fill="#000"/>
<circle cx="331.1" cy="507.2" r="1.35" fill="#000"/>
<circle cx="376.8" cy="476.6" r="1.35" fill="#000"/>
<circle cx="328.8" cy="509.0" r="1.35" fill="#000"/>
<circle cx="428.0" cy="445.0" r="1.35" fill="#000"/>
<circle cx="330.3" cy="508.6" r="1.35" fill="#000"/>
<circle cx="436.3" cy="440.1" r="1.35" fill="#000"/>
<circle cx="380.6" cy="475.0" r="1.35" fill="#000"/>
<circle cx="445.0" cy="432.5" r="1.35" fill="#000"/>
<circle cx="355.3" cy="489.7" r="1.35" fill="#000"/>
<circle cx="351.3" cy="492.5" r="1.35" fill="#000"/>
<circle cx="333.8" cy="506.1" r="1.35" fill="#000"/>
<circle cx="346.4" cy="496.7" r="1.35" fill="#000"/>
<circle cx="361.4" cy="487.1" r="1.35" fill="#000"/>
<circle cx="358.4" cy="487.4" r="1.35" fill="#000"/>
<circle cx="386.9" cy="470.5" r="1.35" fill="#000"/>
<circle cx="321.4" cy="514.8" r="1.35" fill="#000"/>
<circle cx="353.0" cy="490.7" r="1.35" fill="#000"/>
<circle cx="393.9" cy="466.6" r="1.35" fill="#000"/>
<circle cx="344.7" cy="499.8" r="1.35" fill="#000"/>
<circle cx="333.4" cy="506.3" r="1.35" fill="#000"/>
<circle cx="430.3" cy="444.0" r="1.35" fill="#000"/>
<circle cx="432.4" cy="441.7" r="1.35" fill="#000"/>
<circle cx="456.5" cy="424.6" r="1.35" fill="#000"/>
<circle cx="456.5" cy="422.4" r="1.35" fill="#000"/>
<circle cx="456.5" cy="420.2" r="1.35" fill="#000"/>
<circle cx="456.5" cy="417.9" r="1.35" fill="#000"/>
<circle cx="456.5" cy="415.7" r="1.35" fill="#000"/>
</svg></body></html>
